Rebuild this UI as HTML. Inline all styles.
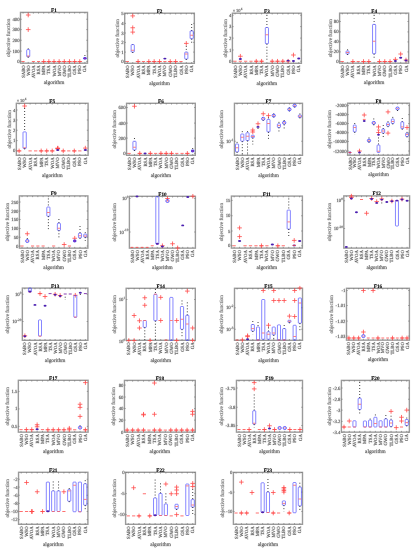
<!DOCTYPE html>
<html><head><meta charset="utf-8"><title>Boxplots F1-F23</title>
<style>html,body{margin:0;padding:0;background:#fff;}svg{display:block;text-rendering:geometricPrecision;}.t{fill:#505050;stroke:#c4c4c4;stroke-width:0.5px;paint-order:stroke;}.yl{fill:#6c6c6c;stroke:#d2d2d2;stroke-width:0.5px;paint-order:stroke;}</style>
</head><body>
<svg width="416" height="550" viewBox="0 0 416 550" font-family="'Liberation Serif', 'Times New Roman', serif" fill="#222">
<rect width="416" height="550" fill="#fff"/>
<rect x="20.5" y="12.4" width="67" height="50.8" fill="none" stroke="#9a9a9a" stroke-width="1.4"/>
<path d="M23.08 63.2v-1.3M23.08 12.4v1.3M28.23 63.2v-1.3M28.23 12.4v1.3M33.38 63.2v-1.3M33.38 12.4v1.3M38.54 63.2v-1.3M38.54 12.4v1.3M43.69 63.2v-1.3M43.69 12.4v1.3M48.85 63.2v-1.3M48.85 12.4v1.3M54 63.2v-1.3M54 12.4v1.3M59.15 63.2v-1.3M59.15 12.4v1.3M64.31 63.2v-1.3M64.31 12.4v1.3M69.46 63.2v-1.3M69.46 12.4v1.3M74.62 63.2v-1.3M74.62 12.4v1.3M79.77 63.2v-1.3M79.77 12.4v1.3M84.92 63.2v-1.3M84.92 12.4v1.3M20.5 61.5h1.3M87.5 61.5h-1.3M20.5 51.1h1.3M87.5 51.1h-1.3M20.5 40.25h1.3M87.5 40.25h-1.3M20.5 29.6h1.3M87.5 29.6h-1.3M20.5 19.25h1.3M87.5 19.25h-1.3" stroke="#6a6a6a" stroke-width="0.55" fill="none"/>
<clipPath id="cF1"><rect x="20" y="9.9" width="68" height="55.8"/></clipPath>
<g clip-path="url(#cF1)">
<line x1="21.55" x2="24.61" y1="61.5" y2="61.5" stroke="#ff4a4a" stroke-width="0.8"/>
<path d="M25.93 15H30.53M28.23 12.7V17.3" stroke="#ff4a4a" stroke-width="0.8" fill="none"/>
<path d="M25.93 29.6H30.53M28.23 27.3V31.9" stroke="#ff4a4a" stroke-width="0.8" fill="none"/>
<line x1="28.23" x2="28.23" y1="48.4" y2="49.6" stroke="#111" stroke-width="0.9" stroke-dasharray="0.9 2.1"/>
<rect x="26.7" y="49.6" width="3.06" height="7.2" rx="0.7" fill="none" stroke="#3535ff" stroke-width="0.6"/>
<line x1="26.9" x2="29.56" y1="56" y2="56" stroke="#ff6262" stroke-width="0.8"/>
<line x1="28.23" x2="28.23" y1="56.8" y2="59" stroke="#111" stroke-width="0.9" stroke-dasharray="0.9 2.1"/>
<line x1="31.85" x2="34.92" y1="61.5" y2="61.5" stroke="#ff4a4a" stroke-width="0.8"/>
<line x1="37.01" x2="40.07" y1="61.5" y2="61.5" stroke="#ff4a4a" stroke-width="0.8"/>
<path d="M41.39 61.5H45.99M43.69 59.2V63.8" stroke="#ff4a4a" stroke-width="0.8" fill="none"/>
<path d="M46.55 61.5H51.15M48.85 59.2V63.8" stroke="#ff4a4a" stroke-width="0.8" fill="none"/>
<path d="M51.7 61.5H56.3M54 59.2V63.8" stroke="#ff4a4a" stroke-width="0.8" fill="none"/>
<path d="M56.85 61.5H61.45M59.15 59.2V63.8" stroke="#ff4a4a" stroke-width="0.8" fill="none"/>
<path d="M62.01 61.5H66.61M64.31 59.2V63.8" stroke="#ff4a4a" stroke-width="0.8" fill="none"/>
<path d="M67.16 61.5H71.76M69.46 59.2V63.8" stroke="#ff4a4a" stroke-width="0.8" fill="none"/>
<path d="M72.32 61.5H76.92M74.62 59.2V63.8" stroke="#ff4a4a" stroke-width="0.8" fill="none"/>
<path d="M77.47 61.5H82.07M79.77 59.2V63.8" stroke="#ff4a4a" stroke-width="0.8" fill="none"/>
<line x1="42.16" x2="45.22" y1="61.5" y2="61.5" stroke="#ff4a4a" stroke-width="0.8"/>
<line x1="47.31" x2="50.38" y1="61.5" y2="61.5" stroke="#ff4a4a" stroke-width="0.8"/>
<line x1="52.47" x2="55.53" y1="61.5" y2="61.5" stroke="#ff4a4a" stroke-width="0.8"/>
<line x1="57.62" x2="60.69" y1="61.5" y2="61.5" stroke="#ff4a4a" stroke-width="0.8"/>
<line x1="62.78" x2="65.84" y1="61.5" y2="61.5" stroke="#ff4a4a" stroke-width="0.8"/>
<line x1="67.93" x2="70.99" y1="61.5" y2="61.5" stroke="#ff4a4a" stroke-width="0.8"/>
<line x1="73.08" x2="76.15" y1="61.5" y2="61.5" stroke="#ff4a4a" stroke-width="0.8"/>
<line x1="78.24" x2="81.3" y1="61.5" y2="61.5" stroke="#ff4a4a" stroke-width="0.8"/>
<line x1="84.92" x2="84.92" y1="55" y2="61" stroke="#111" stroke-width="0.9" stroke-dasharray="0.9 2.1"/>
<ellipse cx="84.92" cy="58.3" rx="1.73" ry="1.4" fill="#3c3cf5"/>
<line x1="84" x2="85.84" y1="58.3" y2="58.3" stroke="#e0206a" stroke-width="0.8"/>
</g>
<text x="19.5" y="63.07" text-anchor="end" font-size="4.75" class="t">0</text>
<text x="19.5" y="52.67" text-anchor="end" font-size="4.75" class="t">100</text>
<text x="19.5" y="41.82" text-anchor="end" font-size="4.75" class="t">200</text>
<text x="19.5" y="31.17" text-anchor="end" font-size="4.75" class="t">300</text>
<text x="19.5" y="20.82" text-anchor="end" font-size="4.75" class="t">400</text>
<text transform="translate(24.64 65.2) rotate(-90)" text-anchor="end" font-size="4.75" class="t">SABO</text>
<text transform="translate(29.8 65.2) rotate(-90)" text-anchor="end" font-size="4.75" class="t">WSO</text>
<text transform="translate(34.95 65.2) rotate(-90)" text-anchor="end" font-size="4.75" class="t">AVOA</text>
<text transform="translate(40.11 65.2) rotate(-90)" text-anchor="end" font-size="4.75" class="t">RSA</text>
<text transform="translate(45.26 65.2) rotate(-90)" text-anchor="end" font-size="4.75" class="t">MPA</text>
<text transform="translate(50.41 65.2) rotate(-90)" text-anchor="end" font-size="4.75" class="t">TSA</text>
<text transform="translate(55.57 65.2) rotate(-90)" text-anchor="end" font-size="4.75" class="t">WOA</text>
<text transform="translate(60.72 65.2) rotate(-90)" text-anchor="end" font-size="4.75" class="t">MVO</text>
<text transform="translate(65.88 65.2) rotate(-90)" text-anchor="end" font-size="4.75" class="t">GWO</text>
<text transform="translate(71.03 65.2) rotate(-90)" text-anchor="end" font-size="4.75" class="t">TLBO</text>
<text transform="translate(76.18 65.2) rotate(-90)" text-anchor="end" font-size="4.75" class="t">GSA</text>
<text transform="translate(81.34 65.2) rotate(-90)" text-anchor="end" font-size="4.75" class="t">PSO</text>
<text transform="translate(86.49 65.2) rotate(-90)" text-anchor="end" font-size="4.75" class="t">GA</text>
<text x="54" y="11.8" text-anchor="middle" font-size="5.2" font-weight="bold" fill="#000" stroke="#000" stroke-width="0.1">F1</text>
<text x="54" y="84.4" text-anchor="middle" font-size="5.3" class="t">algorithm</text>
<text transform="translate(10.32 37.8) rotate(-90)" text-anchor="middle" font-size="5.3" class="yl">objective function</text>
<rect x="124.7" y="13.2" width="69.65" height="50.1" fill="none" stroke="#9a9a9a" stroke-width="1.4"/>
<path d="M127.38 63.3v-1.3M127.38 13.2v1.3M132.74 63.3v-1.3M132.74 13.2v1.3M138.09 63.3v-1.3M138.09 13.2v1.3M143.45 63.3v-1.3M143.45 13.2v1.3M148.81 63.3v-1.3M148.81 13.2v1.3M154.17 63.3v-1.3M154.17 13.2v1.3M159.53 63.3v-1.3M159.53 13.2v1.3M164.88 63.3v-1.3M164.88 13.2v1.3M170.24 63.3v-1.3M170.24 13.2v1.3M175.6 63.3v-1.3M175.6 13.2v1.3M180.96 63.3v-1.3M180.96 13.2v1.3M186.31 63.3v-1.3M186.31 13.2v1.3M191.67 63.3v-1.3M191.67 13.2v1.3M124.7 61.5h1.3M194.35 61.5h-1.3M124.7 52.1h1.3M194.35 52.1h-1.3M124.7 42.4h1.3M194.35 42.4h-1.3M124.7 33h1.3M194.35 33h-1.3M124.7 23.4h1.3M194.35 23.4h-1.3M124.7 13.75h1.3M194.35 13.75h-1.3" stroke="#6a6a6a" stroke-width="0.55" fill="none"/>
<clipPath id="cF2"><rect x="124.2" y="10.7" width="70.65" height="55.1"/></clipPath>
<g clip-path="url(#cF2)">
<line x1="125.79" x2="128.97" y1="61.5" y2="61.5" stroke="#ff4a4a" stroke-width="0.8"/>
<path d="M130.44 15.9H135.04M132.74 13.6V18.2" stroke="#ff4a4a" stroke-width="0.8" fill="none"/>
<path d="M130.44 27.75H135.04M132.74 25.45V30.05" stroke="#ff4a4a" stroke-width="0.8" fill="none"/>
<path d="M130.44 32.1H135.04M132.74 29.8V34.4" stroke="#ff4a4a" stroke-width="0.8" fill="none"/>
<line x1="132.74" x2="132.74" y1="44" y2="44.6" stroke="#111" stroke-width="0.9" stroke-dasharray="0.9 2.1"/>
<rect x="131.14" y="44.6" width="3.18" height="7.5" rx="0.7" fill="none" stroke="#3535ff" stroke-width="0.6"/>
<line x1="131.34" x2="134.13" y1="50.25" y2="50.25" stroke="#ff6262" stroke-width="0.8"/>
<line x1="132.74" x2="132.74" y1="52.1" y2="54.6" stroke="#111" stroke-width="0.9" stroke-dasharray="0.9 2.1"/>
<path d="M135.79 61.5H140.39M138.09 59.2V63.8" stroke="#ff4a4a" stroke-width="0.8" fill="none"/>
<line x1="136.5" x2="139.69" y1="61.5" y2="61.5" stroke="#ff4a4a" stroke-width="0.8"/>
<line x1="141.86" x2="145.04" y1="61.5" y2="61.5" stroke="#ff4a4a" stroke-width="0.8"/>
<path d="M146.51 61.5H151.11M148.81 59.2V63.8" stroke="#ff4a4a" stroke-width="0.8" fill="none"/>
<line x1="147.22" x2="150.4" y1="61.5" y2="61.5" stroke="#ff4a4a" stroke-width="0.8"/>
<path d="M151.87 61.5H156.47M154.17 59.2V63.8" stroke="#ff4a4a" stroke-width="0.8" fill="none"/>
<line x1="152.58" x2="155.76" y1="61.5" y2="61.5" stroke="#ff4a4a" stroke-width="0.8"/>
<path d="M157.22 61.5H161.83M159.53 59.2V63.8" stroke="#ff4a4a" stroke-width="0.8" fill="none"/>
<line x1="157.93" x2="161.12" y1="61.5" y2="61.5" stroke="#ff4a4a" stroke-width="0.8"/>
<ellipse cx="164.88" cy="58.6" rx="1.59" ry="0.95" fill="#4a1fb0"/>
<line x1="163.29" x2="166.47" y1="61.5" y2="61.5" stroke="#ff4a4a" stroke-width="0.8"/>
<path d="M167.94 61.5H172.54M170.24 59.2V63.8" stroke="#ff4a4a" stroke-width="0.8" fill="none"/>
<line x1="168.65" x2="171.83" y1="61.5" y2="61.5" stroke="#ff4a4a" stroke-width="0.8"/>
<path d="M173.3 61.5H177.9M175.6 59.2V63.8" stroke="#ff4a4a" stroke-width="0.8" fill="none"/>
<line x1="174.01" x2="177.19" y1="61.5" y2="61.5" stroke="#ff4a4a" stroke-width="0.8"/>
<line x1="179.36" x2="182.55" y1="61.5" y2="61.5" stroke="#ff4a4a" stroke-width="0.8"/>
<path d="M184.01 43.4H188.61M186.31 41.1V45.7" stroke="#ff4a4a" stroke-width="0.8" fill="none"/>
<line x1="186.31" x2="186.31" y1="45.9" y2="52.1" stroke="#111" stroke-width="0.9" stroke-dasharray="0.9 2.1"/>
<rect x="184.72" y="52.1" width="3.18" height="6.9" rx="0.7" fill="none" stroke="#3535ff" stroke-width="0.6"/>
<line x1="184.92" x2="187.71" y1="54" y2="54" stroke="#ff6262" stroke-width="0.8"/>
<line x1="186.31" x2="186.31" y1="59" y2="60.9" stroke="#111" stroke-width="0.9" stroke-dasharray="0.9 2.1"/>
<line x1="191.67" x2="191.67" y1="24" y2="30.9" stroke="#111" stroke-width="0.9" stroke-dasharray="0.9 2.1"/>
<rect x="190.08" y="30.9" width="3.18" height="7.85" rx="0.7" fill="none" stroke="#3535ff" stroke-width="0.6"/>
<line x1="190.28" x2="193.06" y1="35.25" y2="35.25" stroke="#ff6262" stroke-width="0.8"/>
<line x1="191.67" x2="191.67" y1="38.75" y2="44" stroke="#111" stroke-width="0.9" stroke-dasharray="0.9 2.1"/>
</g>
<text x="123.7" y="63.07" text-anchor="end" font-size="4.75" class="t">0</text>
<text x="123.7" y="53.67" text-anchor="end" font-size="4.75" class="t">1</text>
<text x="123.7" y="43.97" text-anchor="end" font-size="4.75" class="t">2</text>
<text x="123.7" y="34.57" text-anchor="end" font-size="4.75" class="t">3</text>
<text x="123.7" y="24.97" text-anchor="end" font-size="4.75" class="t">4</text>
<text x="123.7" y="15.32" text-anchor="end" font-size="4.75" class="t">5</text>
<text transform="translate(128.95 65.3) rotate(-90)" text-anchor="end" font-size="4.75" class="t">SABO</text>
<text transform="translate(134.3 65.3) rotate(-90)" text-anchor="end" font-size="4.75" class="t">WSO</text>
<text transform="translate(139.66 65.3) rotate(-90)" text-anchor="end" font-size="4.75" class="t">AVOA</text>
<text transform="translate(145.02 65.3) rotate(-90)" text-anchor="end" font-size="4.75" class="t">RSA</text>
<text transform="translate(150.38 65.3) rotate(-90)" text-anchor="end" font-size="4.75" class="t">MPA</text>
<text transform="translate(155.73 65.3) rotate(-90)" text-anchor="end" font-size="4.75" class="t">TSA</text>
<text transform="translate(161.09 65.3) rotate(-90)" text-anchor="end" font-size="4.75" class="t">WOA</text>
<text transform="translate(166.45 65.3) rotate(-90)" text-anchor="end" font-size="4.75" class="t">MVO</text>
<text transform="translate(171.81 65.3) rotate(-90)" text-anchor="end" font-size="4.75" class="t">GWO</text>
<text transform="translate(177.17 65.3) rotate(-90)" text-anchor="end" font-size="4.75" class="t">TLBO</text>
<text transform="translate(182.52 65.3) rotate(-90)" text-anchor="end" font-size="4.75" class="t">GSA</text>
<text transform="translate(187.88 65.3) rotate(-90)" text-anchor="end" font-size="4.75" class="t">PSO</text>
<text transform="translate(193.24 65.3) rotate(-90)" text-anchor="end" font-size="4.75" class="t">GA</text>
<text x="159.53" y="12.6" text-anchor="middle" font-size="5.2" font-weight="bold" fill="#000" stroke="#000" stroke-width="0.1">F2</text>
<text x="159.53" y="84.5" text-anchor="middle" font-size="5.3" class="t">algorithm</text>
<text transform="translate(118.83 38.25) rotate(-90)" text-anchor="middle" font-size="5.3" class="yl">objective function</text>
<rect x="232.4" y="13.2" width="69" height="50.1" fill="none" stroke="#9a9a9a" stroke-width="1.4"/>
<path d="M235.05 63.3v-1.3M235.05 13.2v1.3M240.36 63.3v-1.3M240.36 13.2v1.3M245.67 63.3v-1.3M245.67 13.2v1.3M250.98 63.3v-1.3M250.98 13.2v1.3M256.28 63.3v-1.3M256.28 13.2v1.3M261.59 63.3v-1.3M261.59 13.2v1.3M266.9 63.3v-1.3M266.9 13.2v1.3M272.21 63.3v-1.3M272.21 13.2v1.3M277.52 63.3v-1.3M277.52 13.2v1.3M282.82 63.3v-1.3M282.82 13.2v1.3M288.13 63.3v-1.3M288.13 13.2v1.3M293.44 63.3v-1.3M293.44 13.2v1.3M298.75 63.3v-1.3M298.75 13.2v1.3M232.4 61.25h1.3M301.4 61.25h-1.3M232.4 50h1.3M301.4 50h-1.3M232.4 38.1h1.3M301.4 38.1h-1.3M232.4 26.6h1.3M301.4 26.6h-1.3M232.4 15.25h1.3M301.4 15.25h-1.3" stroke="#6a6a6a" stroke-width="0.55" fill="none"/>
<clipPath id="cF3"><rect x="231.9" y="10.7" width="70" height="55.1"/></clipPath>
<g clip-path="url(#cF3)">
<line x1="233.48" x2="236.63" y1="61.25" y2="61.25" stroke="#ff4a4a" stroke-width="0.8"/>
<path d="M238.06 56.25H242.66M240.36 53.95V58.55" stroke="#ff4a4a" stroke-width="0.8" fill="none"/>
<ellipse cx="240.36" cy="59" rx="1.58" ry="0.95" fill="#4a1fb0"/>
<line x1="238.78" x2="241.94" y1="61.25" y2="61.25" stroke="#ff4a4a" stroke-width="0.8"/>
<line x1="244.09" x2="247.25" y1="61.25" y2="61.25" stroke="#ff4a4a" stroke-width="0.8"/>
<line x1="249.4" x2="252.55" y1="61.25" y2="61.25" stroke="#ff4a4a" stroke-width="0.8"/>
<path d="M253.98 61.25H258.58M256.28 58.95V63.55" stroke="#ff4a4a" stroke-width="0.8" fill="none"/>
<line x1="254.71" x2="257.86" y1="61.25" y2="61.25" stroke="#ff4a4a" stroke-width="0.8"/>
<path d="M259.29 61.25H263.89M261.59 58.95V63.55" stroke="#ff4a4a" stroke-width="0.8" fill="none"/>
<line x1="260.02" x2="263.17" y1="61.25" y2="61.25" stroke="#ff4a4a" stroke-width="0.8"/>
<line x1="266.9" x2="266.9" y1="15" y2="27.5" stroke="#111" stroke-width="0.9" stroke-dasharray="0.9 2.1"/>
<rect x="265.32" y="27.5" width="3.15" height="16.25" rx="0.7" fill="none" stroke="#3535ff" stroke-width="0.6"/>
<line x1="265.52" x2="268.28" y1="34.75" y2="34.75" stroke="#ff6262" stroke-width="0.8"/>
<line x1="266.9" x2="266.9" y1="43.75" y2="60" stroke="#111" stroke-width="0.9" stroke-dasharray="0.9 2.1"/>
<path d="M269.91 61.25H274.51M272.21 58.95V63.55" stroke="#ff4a4a" stroke-width="0.8" fill="none"/>
<line x1="270.63" x2="273.78" y1="61.25" y2="61.25" stroke="#ff4a4a" stroke-width="0.8"/>
<path d="M275.22 61.25H279.82M277.52 58.95V63.55" stroke="#ff4a4a" stroke-width="0.8" fill="none"/>
<line x1="275.94" x2="279.09" y1="61.25" y2="61.25" stroke="#ff4a4a" stroke-width="0.8"/>
<path d="M280.52 61.25H285.12M282.82 58.95V63.55" stroke="#ff4a4a" stroke-width="0.8" fill="none"/>
<line x1="281.25" x2="284.4" y1="61.25" y2="61.25" stroke="#ff4a4a" stroke-width="0.8"/>
<path d="M285.83 61.25H290.43M288.13 58.95V63.55" stroke="#ff4a4a" stroke-width="0.8" fill="none"/>
<ellipse cx="288.13" cy="60.6" rx="1.58" ry="0.95" fill="#4a1fb0"/>
<path d="M291.14 55H295.74M293.44 52.7V57.3" stroke="#ff4a4a" stroke-width="0.8" fill="none"/>
<ellipse cx="293.44" cy="61" rx="1.58" ry="0.95" fill="#4a1fb0"/>
<ellipse cx="298.75" cy="58.5" rx="1.58" ry="0.95" fill="#4a1fb0"/>
</g>
<text x="231.4" y="62.82" text-anchor="end" font-size="4.75" class="t">0</text>
<text x="231.4" y="51.57" text-anchor="end" font-size="4.75" class="t">1</text>
<text x="231.4" y="39.67" text-anchor="end" font-size="4.75" class="t">2</text>
<text x="231.4" y="28.17" text-anchor="end" font-size="4.75" class="t">3</text>
<text x="231.4" y="16.82" text-anchor="end" font-size="4.75" class="t">4</text>
<text x="232.8" y="11.8" font-size="4.2" class="t">×</text>
<text x="236" y="11.8" font-size="4.4" class="t">10<tspan dx="0.3" dy="-2.2" font-size="3.3">4</tspan></text>
<text transform="translate(236.62 65.3) rotate(-90)" text-anchor="end" font-size="4.75" class="t">SABO</text>
<text transform="translate(241.93 65.3) rotate(-90)" text-anchor="end" font-size="4.75" class="t">WSO</text>
<text transform="translate(247.24 65.3) rotate(-90)" text-anchor="end" font-size="4.75" class="t">AVOA</text>
<text transform="translate(252.54 65.3) rotate(-90)" text-anchor="end" font-size="4.75" class="t">RSA</text>
<text transform="translate(257.85 65.3) rotate(-90)" text-anchor="end" font-size="4.75" class="t">MPA</text>
<text transform="translate(263.16 65.3) rotate(-90)" text-anchor="end" font-size="4.75" class="t">TSA</text>
<text transform="translate(268.47 65.3) rotate(-90)" text-anchor="end" font-size="4.75" class="t">WOA</text>
<text transform="translate(273.78 65.3) rotate(-90)" text-anchor="end" font-size="4.75" class="t">MVO</text>
<text transform="translate(279.08 65.3) rotate(-90)" text-anchor="end" font-size="4.75" class="t">GWO</text>
<text transform="translate(284.39 65.3) rotate(-90)" text-anchor="end" font-size="4.75" class="t">TLBO</text>
<text transform="translate(289.7 65.3) rotate(-90)" text-anchor="end" font-size="4.75" class="t">GSA</text>
<text transform="translate(295.01 65.3) rotate(-90)" text-anchor="end" font-size="4.75" class="t">PSO</text>
<text transform="translate(300.31 65.3) rotate(-90)" text-anchor="end" font-size="4.75" class="t">GA</text>
<text x="266.9" y="12.6" text-anchor="middle" font-size="5.2" font-weight="bold" fill="#000" stroke="#000" stroke-width="0.1">F3</text>
<text x="266.9" y="84.5" text-anchor="middle" font-size="5.3" class="t">algorithm</text>
<text transform="translate(227.42 38.25) rotate(-90)" text-anchor="middle" font-size="5.3" class="yl">objective function</text>
<rect x="339.6" y="13.15" width="69.05" height="50.05" fill="none" stroke="#9a9a9a" stroke-width="1.4"/>
<path d="M342.26 63.2v-1.3M342.26 13.15v1.3M347.57 63.2v-1.3M347.57 13.15v1.3M352.88 63.2v-1.3M352.88 13.15v1.3M358.19 63.2v-1.3M358.19 13.15v1.3M363.5 63.2v-1.3M363.5 13.15v1.3M368.81 63.2v-1.3M368.81 13.15v1.3M374.12 63.2v-1.3M374.12 13.15v1.3M379.44 63.2v-1.3M379.44 13.15v1.3M384.75 63.2v-1.3M384.75 13.15v1.3M390.06 63.2v-1.3M390.06 13.15v1.3M395.37 63.2v-1.3M395.37 13.15v1.3M400.68 63.2v-1.3M400.68 13.15v1.3M405.99 63.2v-1.3M405.99 13.15v1.3M339.6 61.5h1.3M408.65 61.5h-1.3M339.6 51.9h1.3M408.65 51.9h-1.3M339.6 41.9h1.3M408.65 41.9h-1.3M339.6 31.9h1.3M408.65 31.9h-1.3M339.6 21.5h1.3M408.65 21.5h-1.3" stroke="#6a6a6a" stroke-width="0.55" fill="none"/>
<clipPath id="cF4"><rect x="339.1" y="10.65" width="70.05" height="55.05"/></clipPath>
<g clip-path="url(#cF4)">
<line x1="340.68" x2="343.83" y1="61.5" y2="61.5" stroke="#ff4a4a" stroke-width="0.8"/>
<line x1="347.57" x2="347.57" y1="49.4" y2="51.25" stroke="#111" stroke-width="0.9" stroke-dasharray="0.9 2.1"/>
<rect x="345.99" y="51" width="3.16" height="3" rx="0.7" fill="none" stroke="#3535ff" stroke-width="0.6"/>
<line x1="346.19" x2="348.95" y1="52.5" y2="52.5" stroke="#ff6262" stroke-width="0.8"/>
<line x1="347.57" x2="347.57" y1="54" y2="55.6" stroke="#111" stroke-width="0.9" stroke-dasharray="0.9 2.1"/>
<path d="M350.58 61.5H355.18M352.88 59.2V63.8" stroke="#ff4a4a" stroke-width="0.8" fill="none"/>
<line x1="351.3" x2="354.46" y1="61.5" y2="61.5" stroke="#ff4a4a" stroke-width="0.8"/>
<line x1="356.61" x2="359.77" y1="61.5" y2="61.5" stroke="#ff4a4a" stroke-width="0.8"/>
<path d="M361.2 61.5H365.8M363.5 59.2V63.8" stroke="#ff4a4a" stroke-width="0.8" fill="none"/>
<line x1="361.92" x2="365.08" y1="61.5" y2="61.5" stroke="#ff4a4a" stroke-width="0.8"/>
<path d="M366.51 61.5H371.11M368.81 59.2V63.8" stroke="#ff4a4a" stroke-width="0.8" fill="none"/>
<line x1="367.24" x2="370.39" y1="61.5" y2="61.5" stroke="#ff4a4a" stroke-width="0.8"/>
<line x1="374.12" x2="374.12" y1="15" y2="24.4" stroke="#111" stroke-width="0.9" stroke-dasharray="0.9 2.1"/>
<rect x="372.55" y="24.4" width="3.16" height="29.35" rx="0.7" fill="none" stroke="#3535ff" stroke-width="0.6"/>
<line x1="372.75" x2="375.5" y1="41.25" y2="41.25" stroke="#ff6262" stroke-width="0.8"/>
<line x1="374.12" x2="374.12" y1="53.75" y2="59.4" stroke="#111" stroke-width="0.9" stroke-dasharray="0.9 2.1"/>
<path d="M377.14 61.5H381.74M379.44 59.2V63.8" stroke="#ff4a4a" stroke-width="0.8" fill="none"/>
<line x1="377.86" x2="381.01" y1="61.5" y2="61.5" stroke="#ff4a4a" stroke-width="0.8"/>
<path d="M382.45 61.5H387.05M384.75 59.2V63.8" stroke="#ff4a4a" stroke-width="0.8" fill="none"/>
<line x1="383.17" x2="386.33" y1="61.5" y2="61.5" stroke="#ff4a4a" stroke-width="0.8"/>
<path d="M387.76 61.5H392.36M390.06 59.2V63.8" stroke="#ff4a4a" stroke-width="0.8" fill="none"/>
<line x1="388.48" x2="391.64" y1="61.5" y2="61.5" stroke="#ff4a4a" stroke-width="0.8"/>
<path d="M393.07 59.4H397.67M395.37 57.1V61.7" stroke="#ff4a4a" stroke-width="0.8" fill="none"/>
<ellipse cx="395.37" cy="61" rx="1.58" ry="0.95" fill="#4a1fb0"/>
<path d="M398.38 54H402.98M400.68 51.7V56.3" stroke="#ff4a4a" stroke-width="0.8" fill="none"/>
<ellipse cx="400.68" cy="57.75" rx="1.58" ry="0.95" fill="#4a1fb0"/>
<path d="M403.69 60H408.29M405.99 57.7V62.3" stroke="#ff4a4a" stroke-width="0.8" fill="none"/>
<ellipse cx="405.99" cy="60.5" rx="1.58" ry="0.95" fill="#4a1fb0"/>
</g>
<text x="338.6" y="63.07" text-anchor="end" font-size="4.75" class="t">0</text>
<text x="338.6" y="53.47" text-anchor="end" font-size="4.75" class="t">20</text>
<text x="338.6" y="43.47" text-anchor="end" font-size="4.75" class="t">40</text>
<text x="338.6" y="33.47" text-anchor="end" font-size="4.75" class="t">60</text>
<text x="338.6" y="23.07" text-anchor="end" font-size="4.75" class="t">80</text>
<text transform="translate(343.82 65.2) rotate(-90)" text-anchor="end" font-size="4.75" class="t">SABO</text>
<text transform="translate(349.13 65.2) rotate(-90)" text-anchor="end" font-size="4.75" class="t">WSO</text>
<text transform="translate(354.45 65.2) rotate(-90)" text-anchor="end" font-size="4.75" class="t">AVOA</text>
<text transform="translate(359.76 65.2) rotate(-90)" text-anchor="end" font-size="4.75" class="t">RSA</text>
<text transform="translate(365.07 65.2) rotate(-90)" text-anchor="end" font-size="4.75" class="t">MPA</text>
<text transform="translate(370.38 65.2) rotate(-90)" text-anchor="end" font-size="4.75" class="t">TSA</text>
<text transform="translate(375.69 65.2) rotate(-90)" text-anchor="end" font-size="4.75" class="t">WOA</text>
<text transform="translate(381 65.2) rotate(-90)" text-anchor="end" font-size="4.75" class="t">MVO</text>
<text transform="translate(386.32 65.2) rotate(-90)" text-anchor="end" font-size="4.75" class="t">GWO</text>
<text transform="translate(391.63 65.2) rotate(-90)" text-anchor="end" font-size="4.75" class="t">TLBO</text>
<text transform="translate(396.94 65.2) rotate(-90)" text-anchor="end" font-size="4.75" class="t">GSA</text>
<text transform="translate(402.25 65.2) rotate(-90)" text-anchor="end" font-size="4.75" class="t">PSO</text>
<text transform="translate(407.56 65.2) rotate(-90)" text-anchor="end" font-size="4.75" class="t">GA</text>
<text x="374.12" y="12.55" text-anchor="middle" font-size="5.2" font-weight="bold" fill="#000" stroke="#000" stroke-width="0.1">F4</text>
<text x="374.12" y="84.4" text-anchor="middle" font-size="5.3" class="t">algorithm</text>
<text transform="translate(332.07 38.18) rotate(-90)" text-anchor="middle" font-size="5.3" class="yl">objective function</text>
<rect x="16.35" y="103.3" width="71.75" height="52" fill="none" stroke="#9a9a9a" stroke-width="1.4"/>
<path d="M19.11 155.3v-1.3M19.11 103.3v1.3M24.63 155.3v-1.3M24.63 103.3v1.3M30.15 155.3v-1.3M30.15 103.3v1.3M35.67 155.3v-1.3M35.67 103.3v1.3M41.19 155.3v-1.3M41.19 103.3v1.3M46.71 155.3v-1.3M46.71 103.3v1.3M52.23 155.3v-1.3M52.23 103.3v1.3M57.74 155.3v-1.3M57.74 103.3v1.3M63.26 155.3v-1.3M63.26 103.3v1.3M68.78 155.3v-1.3M68.78 103.3v1.3M74.3 155.3v-1.3M74.3 103.3v1.3M79.82 155.3v-1.3M79.82 103.3v1.3M85.34 155.3v-1.3M85.34 103.3v1.3M16.35 150.9h1.3M88.1 150.9h-1.3M16.35 140.6h1.3M88.1 140.6h-1.3M16.35 130.25h1.3M88.1 130.25h-1.3M16.35 120h1.3M88.1 120h-1.3M16.35 110h1.3M88.1 110h-1.3" stroke="#6a6a6a" stroke-width="0.55" fill="none"/>
<clipPath id="cF5"><rect x="15.85" y="100.8" width="72.75" height="57"/></clipPath>
<g clip-path="url(#cF5)">
<path d="M16.81 150.9H21.41M19.11 148.6V153.2" stroke="#ff4a4a" stroke-width="0.8" fill="none"/>
<line x1="17.47" x2="20.75" y1="150.9" y2="150.9" stroke="#ff4a4a" stroke-width="0.8"/>
<path d="M22.33 106H26.93M24.63 103.7V108.3" stroke="#ff4a4a" stroke-width="0.8" fill="none"/>
<line x1="24.63" x2="24.63" y1="108" y2="131.9" stroke="#111" stroke-width="0.9" stroke-dasharray="0.9 2.1"/>
<rect x="22.99" y="131.9" width="3.28" height="16.6" rx="0.7" fill="none" stroke="#3535ff" stroke-width="0.6"/>
<line x1="23.19" x2="26.07" y1="147.75" y2="147.75" stroke="#ff6262" stroke-width="0.8"/>
<line x1="24.63" x2="24.63" y1="148.5" y2="150.5" stroke="#111" stroke-width="0.9" stroke-dasharray="0.9 2.1"/>
<line x1="28.51" x2="31.79" y1="150.9" y2="150.9" stroke="#ff4a4a" stroke-width="0.8"/>
<line x1="34.03" x2="37.31" y1="150.9" y2="150.9" stroke="#ff4a4a" stroke-width="0.8"/>
<path d="M38.89 150.9H43.49M41.19 148.6V153.2" stroke="#ff4a4a" stroke-width="0.8" fill="none"/>
<line x1="39.55" x2="42.83" y1="150.9" y2="150.9" stroke="#ff4a4a" stroke-width="0.8"/>
<path d="M44.41 150.9H49.01M46.71 148.6V153.2" stroke="#ff4a4a" stroke-width="0.8" fill="none"/>
<line x1="45.07" x2="48.35" y1="150.9" y2="150.9" stroke="#ff4a4a" stroke-width="0.8"/>
<path d="M49.93 150.9H54.52M52.23 148.6V153.2" stroke="#ff4a4a" stroke-width="0.8" fill="none"/>
<line x1="50.58" x2="53.87" y1="150.9" y2="150.9" stroke="#ff4a4a" stroke-width="0.8"/>
<path d="M55.44 148.1H60.04M57.74 145.8V150.4" stroke="#ff4a4a" stroke-width="0.8" fill="none"/>
<path d="M55.44 148.6H60.04M57.74 146.3V150.9" stroke="#ff4a4a" stroke-width="1.12" fill="none"/>
<ellipse cx="57.74" cy="150" rx="1.64" ry="0.95" fill="#4a1fb0"/>
<path d="M60.96 150.9H65.56M63.26 148.6V153.2" stroke="#ff4a4a" stroke-width="0.8" fill="none"/>
<line x1="61.62" x2="64.9" y1="150.9" y2="150.9" stroke="#ff4a4a" stroke-width="0.8"/>
<line x1="67.14" x2="70.42" y1="150.9" y2="150.9" stroke="#ff4a4a" stroke-width="0.8"/>
<path d="M72 150.9H76.6M74.3 148.6V153.2" stroke="#ff4a4a" stroke-width="0.8" fill="none"/>
<line x1="72.66" x2="75.94" y1="150.9" y2="150.9" stroke="#ff4a4a" stroke-width="0.8"/>
<line x1="78.18" x2="81.46" y1="150.9" y2="150.9" stroke="#ff4a4a" stroke-width="0.8"/>
<path d="M83.04 148.1H87.64M85.34 145.8V150.4" stroke="#ff4a4a" stroke-width="0.8" fill="none"/>
<ellipse cx="85.34" cy="150" rx="1.64" ry="0.95" fill="#4a1fb0"/>
</g>
<text x="15.35" y="152.47" text-anchor="end" font-size="4.75" class="t">0</text>
<text x="15.35" y="142.17" text-anchor="end" font-size="4.75" class="t">1</text>
<text x="15.35" y="131.82" text-anchor="end" font-size="4.75" class="t">2</text>
<text x="15.35" y="121.57" text-anchor="end" font-size="4.75" class="t">3</text>
<text x="15.35" y="111.57" text-anchor="end" font-size="4.75" class="t">4</text>
<text x="16.75" y="101.9" font-size="4.2" class="t">×</text>
<text x="19.95" y="101.9" font-size="4.4" class="t">10<tspan dx="0.3" dy="-2.2" font-size="3.3">4</tspan></text>
<text transform="translate(20.68 157.3) rotate(-90)" text-anchor="end" font-size="4.75" class="t">SABO</text>
<text transform="translate(26.2 157.3) rotate(-90)" text-anchor="end" font-size="4.75" class="t">WSO</text>
<text transform="translate(31.72 157.3) rotate(-90)" text-anchor="end" font-size="4.75" class="t">AVOA</text>
<text transform="translate(37.23 157.3) rotate(-90)" text-anchor="end" font-size="4.75" class="t">RSA</text>
<text transform="translate(42.75 157.3) rotate(-90)" text-anchor="end" font-size="4.75" class="t">MPA</text>
<text transform="translate(48.27 157.3) rotate(-90)" text-anchor="end" font-size="4.75" class="t">TSA</text>
<text transform="translate(53.79 157.3) rotate(-90)" text-anchor="end" font-size="4.75" class="t">WOA</text>
<text transform="translate(59.31 157.3) rotate(-90)" text-anchor="end" font-size="4.75" class="t">MVO</text>
<text transform="translate(64.83 157.3) rotate(-90)" text-anchor="end" font-size="4.75" class="t">GWO</text>
<text transform="translate(70.35 157.3) rotate(-90)" text-anchor="end" font-size="4.75" class="t">TLBO</text>
<text transform="translate(75.87 157.3) rotate(-90)" text-anchor="end" font-size="4.75" class="t">GSA</text>
<text transform="translate(81.39 157.3) rotate(-90)" text-anchor="end" font-size="4.75" class="t">PSO</text>
<text transform="translate(86.91 157.3) rotate(-90)" text-anchor="end" font-size="4.75" class="t">GA</text>
<text x="52.22" y="102.7" text-anchor="middle" font-size="5.2" font-weight="bold" fill="#000" stroke="#000" stroke-width="0.1">F5</text>
<text x="52.22" y="176.5" text-anchor="middle" font-size="5.3" class="t">algorithm</text>
<text transform="translate(11.32 129.3) rotate(-90)" text-anchor="middle" font-size="5.3" class="yl">objective function</text>
<rect x="126.55" y="103.3" width="68.75" height="52" fill="none" stroke="#9a9a9a" stroke-width="1.4"/>
<path d="M129.19 155.3v-1.3M129.19 103.3v1.3M134.48 155.3v-1.3M134.48 103.3v1.3M139.77 155.3v-1.3M139.77 103.3v1.3M145.06 155.3v-1.3M145.06 103.3v1.3M150.35 155.3v-1.3M150.35 103.3v1.3M155.64 155.3v-1.3M155.64 103.3v1.3M160.93 155.3v-1.3M160.93 103.3v1.3M166.21 155.3v-1.3M166.21 103.3v1.3M171.5 155.3v-1.3M171.5 103.3v1.3M176.79 155.3v-1.3M176.79 103.3v1.3M182.08 155.3v-1.3M182.08 103.3v1.3M187.37 155.3v-1.3M187.37 103.3v1.3M192.66 155.3v-1.3M192.66 103.3v1.3M126.55 153.4h1.3M195.3 153.4h-1.3M126.55 138.1h1.3M195.3 138.1h-1.3M126.55 123.1h1.3M195.3 123.1h-1.3M126.55 107.5h1.3M195.3 107.5h-1.3" stroke="#6a6a6a" stroke-width="0.55" fill="none"/>
<clipPath id="cF6"><rect x="126.05" y="100.8" width="69.75" height="57"/></clipPath>
<g clip-path="url(#cF6)">
<line x1="127.62" x2="130.77" y1="153.4" y2="153.4" stroke="#ff4a4a" stroke-width="0.8"/>
<path d="M132.18 106.25H136.78M134.48 103.95V108.55" stroke="#ff4a4a" stroke-width="0.8" fill="none"/>
<line x1="134.48" x2="134.48" y1="138.1" y2="141.25" stroke="#111" stroke-width="0.9" stroke-dasharray="0.9 2.1"/>
<rect x="132.91" y="141.25" width="3.14" height="8.75" rx="0.7" fill="none" stroke="#3535ff" stroke-width="0.6"/>
<line x1="133.11" x2="135.85" y1="147.25" y2="147.25" stroke="#ff6262" stroke-width="0.8"/>
<line x1="134.48" x2="134.48" y1="150" y2="152.1" stroke="#111" stroke-width="0.9" stroke-dasharray="0.9 2.1"/>
<path d="M137.47 153.4H142.07M139.77 151.1V155.7" stroke="#ff4a4a" stroke-width="0.8" fill="none"/>
<line x1="138.2" x2="141.34" y1="153.4" y2="153.4" stroke="#ff4a4a" stroke-width="0.8"/>
<ellipse cx="145.06" cy="153.4" rx="1.57" ry="0.95" fill="#4a1fb0"/>
<path d="M148.05 153.4H152.65M150.35 151.1V155.7" stroke="#ff4a4a" stroke-width="0.8" fill="none"/>
<line x1="148.78" x2="151.92" y1="153.4" y2="153.4" stroke="#ff4a4a" stroke-width="0.8"/>
<line x1="154.06" x2="157.21" y1="153.4" y2="153.4" stroke="#ff4a4a" stroke-width="0.8"/>
<path d="M158.62 153.4H163.23M160.93 151.1V155.7" stroke="#ff4a4a" stroke-width="0.8" fill="none"/>
<line x1="159.35" x2="162.5" y1="153.4" y2="153.4" stroke="#ff4a4a" stroke-width="0.8"/>
<path d="M163.91 153.4H168.51M166.21 151.1V155.7" stroke="#ff4a4a" stroke-width="0.8" fill="none"/>
<line x1="164.64" x2="167.79" y1="153.4" y2="153.4" stroke="#ff4a4a" stroke-width="0.8"/>
<path d="M169.2 153.4H173.8M171.5 151.1V155.7" stroke="#ff4a4a" stroke-width="0.8" fill="none"/>
<line x1="169.93" x2="173.07" y1="153.4" y2="153.4" stroke="#ff4a4a" stroke-width="0.8"/>
<line x1="175.22" x2="178.36" y1="153.4" y2="153.4" stroke="#ff4a4a" stroke-width="0.8"/>
<line x1="180.51" x2="183.65" y1="153.4" y2="153.4" stroke="#ff4a4a" stroke-width="0.8"/>
<path d="M185.07 153.4H189.67M187.37 151.1V155.7" stroke="#ff4a4a" stroke-width="0.8" fill="none"/>
<line x1="185.8" x2="188.94" y1="153.4" y2="153.4" stroke="#ff4a4a" stroke-width="0.8"/>
<line x1="192.66" x2="192.66" y1="148" y2="150" stroke="#111" stroke-width="0.9" stroke-dasharray="0.9 2.1"/>
<ellipse cx="192.66" cy="151" rx="1.77" ry="1.4" fill="#3c3cf5"/>
<line x1="191.71" x2="193.6" y1="151" y2="151" stroke="#e0206a" stroke-width="0.8"/>
</g>
<text x="125.55" y="154.97" text-anchor="end" font-size="4.75" class="t">0</text>
<text x="125.55" y="139.67" text-anchor="end" font-size="4.75" class="t">200</text>
<text x="125.55" y="124.67" text-anchor="end" font-size="4.75" class="t">400</text>
<text x="125.55" y="109.07" text-anchor="end" font-size="4.75" class="t">600</text>
<text transform="translate(130.76 157.3) rotate(-90)" text-anchor="end" font-size="4.75" class="t">SABO</text>
<text transform="translate(136.05 157.3) rotate(-90)" text-anchor="end" font-size="4.75" class="t">WSO</text>
<text transform="translate(141.34 157.3) rotate(-90)" text-anchor="end" font-size="4.75" class="t">AVOA</text>
<text transform="translate(146.63 157.3) rotate(-90)" text-anchor="end" font-size="4.75" class="t">RSA</text>
<text transform="translate(151.92 157.3) rotate(-90)" text-anchor="end" font-size="4.75" class="t">MPA</text>
<text transform="translate(157.2 157.3) rotate(-90)" text-anchor="end" font-size="4.75" class="t">TSA</text>
<text transform="translate(162.49 157.3) rotate(-90)" text-anchor="end" font-size="4.75" class="t">WOA</text>
<text transform="translate(167.78 157.3) rotate(-90)" text-anchor="end" font-size="4.75" class="t">MVO</text>
<text transform="translate(173.07 157.3) rotate(-90)" text-anchor="end" font-size="4.75" class="t">GWO</text>
<text transform="translate(178.36 157.3) rotate(-90)" text-anchor="end" font-size="4.75" class="t">TLBO</text>
<text transform="translate(183.65 157.3) rotate(-90)" text-anchor="end" font-size="4.75" class="t">GSA</text>
<text transform="translate(188.93 157.3) rotate(-90)" text-anchor="end" font-size="4.75" class="t">PSO</text>
<text transform="translate(194.22 157.3) rotate(-90)" text-anchor="end" font-size="4.75" class="t">GA</text>
<text x="160.93" y="102.7" text-anchor="middle" font-size="5.2" font-weight="bold" fill="#000" stroke="#000" stroke-width="0.1">F6</text>
<text x="160.93" y="176.5" text-anchor="middle" font-size="5.3" class="t">algorithm</text>
<text transform="translate(116.33 129.3) rotate(-90)" text-anchor="middle" font-size="5.3" class="yl">objective function</text>
<rect x="234.45" y="103.3" width="68.05" height="52" fill="none" stroke="#9a9a9a" stroke-width="1.4"/>
<path d="M237.07 155.3v-1.3M237.07 103.3v1.3M242.3 155.3v-1.3M242.3 103.3v1.3M247.54 155.3v-1.3M247.54 103.3v1.3M252.77 155.3v-1.3M252.77 103.3v1.3M258.01 155.3v-1.3M258.01 103.3v1.3M263.24 155.3v-1.3M263.24 103.3v1.3M268.48 155.3v-1.3M268.48 103.3v1.3M273.71 155.3v-1.3M273.71 103.3v1.3M278.94 155.3v-1.3M278.94 103.3v1.3M284.18 155.3v-1.3M284.18 103.3v1.3M289.41 155.3v-1.3M289.41 103.3v1.3M294.65 155.3v-1.3M294.65 103.3v1.3M299.88 155.3v-1.3M299.88 103.3v1.3M234.45 141.25h1.3M302.5 141.25h-1.3" stroke="#6a6a6a" stroke-width="0.55" fill="none"/>
<clipPath id="cF7"><rect x="233.95" y="100.8" width="69.05" height="57"/></clipPath>
<g clip-path="url(#cF7)">
<line x1="237.07" x2="237.07" y1="141.9" y2="144" stroke="#111" stroke-width="0.9" stroke-dasharray="0.9 2.1"/>
<rect x="235.51" y="144" width="3.11" height="7.9" rx="0.7" fill="none" stroke="#3535ff" stroke-width="0.6"/>
<line x1="235.71" x2="238.42" y1="147.75" y2="147.75" stroke="#ff6262" stroke-width="0.8"/>
<line x1="237.07" x2="237.07" y1="151.9" y2="155" stroke="#111" stroke-width="0.9" stroke-dasharray="0.9 2.1"/>
<line x1="242.3" x2="242.3" y1="131.25" y2="134" stroke="#111" stroke-width="0.9" stroke-dasharray="0.9 2.1"/>
<rect x="240.75" y="134" width="3.11" height="7.25" rx="0.7" fill="none" stroke="#3535ff" stroke-width="0.6"/>
<line x1="240.95" x2="243.66" y1="137.25" y2="137.25" stroke="#ff6262" stroke-width="0.8"/>
<line x1="242.3" x2="242.3" y1="141.25" y2="155" stroke="#111" stroke-width="0.9" stroke-dasharray="0.9 2.1"/>
<line x1="247.54" x2="247.54" y1="131.25" y2="132.75" stroke="#111" stroke-width="0.9" stroke-dasharray="0.9 2.1"/>
<rect x="245.98" y="132.75" width="3.11" height="7.85" rx="0.7" fill="none" stroke="#3535ff" stroke-width="0.6"/>
<line x1="246.18" x2="248.89" y1="136.25" y2="136.25" stroke="#ff6262" stroke-width="0.8"/>
<line x1="247.54" x2="247.54" y1="140.6" y2="155" stroke="#111" stroke-width="0.9" stroke-dasharray="0.9 2.1"/>
<path d="M250.47 130H255.07M252.77 127.7V132.3" stroke="#ff4a4a" stroke-width="0.8" fill="none"/>
<path d="M250.47 132H255.07M252.77 129.7V134.3" stroke="#ff4a4a" stroke-width="0.8" fill="none"/>
<rect x="251.22" y="135.25" width="3.11" height="2.5" rx="0.7" fill="none" stroke="#3535ff" stroke-width="0.6"/>
<line x1="251.42" x2="254.13" y1="136.5" y2="136.5" stroke="#ff6262" stroke-width="0.8"/>
<line x1="252.77" x2="252.77" y1="137.75" y2="144.4" stroke="#111" stroke-width="0.9" stroke-dasharray="0.9 2.1"/>
<path d="M255.71 123.75H260.31M258.01 121.45V126.05" stroke="#ff4a4a" stroke-width="0.8" fill="none"/>
<ellipse cx="258.01" cy="126.9" rx="1.56" ry="0.95" fill="#4a1fb0"/>
<line x1="258.01" x2="258.01" y1="128" y2="129.75" stroke="#111" stroke-width="0.9" stroke-dasharray="0.9 2.1"/>
<path d="M260.94 113.75H265.54M263.24 111.45V116.05" stroke="#ff4a4a" stroke-width="0.8" fill="none"/>
<ellipse cx="263.24" cy="118.75" rx="1.65" ry="1.5" fill="none" stroke="#3535ff" stroke-width="0.8"/>
<line x1="262.34" x2="264.14" y1="118.75" y2="118.75" stroke="#ff4a4a" stroke-width="0.6"/>
<line x1="263.24" x2="263.24" y1="120" y2="120.6" stroke="#111" stroke-width="0.9" stroke-dasharray="0.9 2.1"/>
<path d="M266.18 115.6H270.78M268.48 113.3V117.9" stroke="#ff4a4a" stroke-width="0.8" fill="none"/>
<line x1="268.48" x2="268.48" y1="117.5" y2="119.4" stroke="#111" stroke-width="0.9" stroke-dasharray="0.9 2.1"/>
<rect x="266.92" y="119.4" width="3.11" height="12.5" rx="0.7" fill="none" stroke="#3535ff" stroke-width="0.6"/>
<line x1="267.12" x2="269.83" y1="123.5" y2="123.5" stroke="#ff6262" stroke-width="0.8"/>
<line x1="268.48" x2="268.48" y1="131.9" y2="138.75" stroke="#111" stroke-width="0.9" stroke-dasharray="0.9 2.1"/>
<line x1="273.71" x2="273.71" y1="113.5" y2="117.5" stroke="#111" stroke-width="0.9" stroke-dasharray="0.9 2.1"/>
<ellipse cx="273.71" cy="115.6" rx="1.65" ry="1.5" fill="none" stroke="#3535ff" stroke-width="0.8"/>
<line x1="272.81" x2="274.61" y1="115.6" y2="115.6" stroke="#ff4a4a" stroke-width="0.6"/>
<line x1="278.94" x2="278.94" y1="121.9" y2="123.75" stroke="#111" stroke-width="0.9" stroke-dasharray="0.9 2.1"/>
<rect x="277.39" y="123.75" width="3.11" height="3.75" rx="0.7" fill="none" stroke="#3535ff" stroke-width="0.6"/>
<line x1="277.59" x2="280.3" y1="125.6" y2="125.6" stroke="#ff6262" stroke-width="0.8"/>
<line x1="278.94" x2="278.94" y1="127.5" y2="131.9" stroke="#111" stroke-width="0.9" stroke-dasharray="0.9 2.1"/>
<line x1="284.18" x2="284.18" y1="120" y2="121" stroke="#111" stroke-width="0.9" stroke-dasharray="0.9 2.1"/>
<ellipse cx="284.18" cy="122.75" rx="1.65" ry="1.5" fill="none" stroke="#3535ff" stroke-width="0.8"/>
<line x1="283.28" x2="285.08" y1="122.75" y2="122.75" stroke="#ff4a4a" stroke-width="0.6"/>
<line x1="284.18" x2="284.18" y1="124.5" y2="129.4" stroke="#111" stroke-width="0.9" stroke-dasharray="0.9 2.1"/>
<line x1="289.41" x2="289.41" y1="107.5" y2="111.9" stroke="#111" stroke-width="0.9" stroke-dasharray="0.9 2.1"/>
<ellipse cx="289.41" cy="109.4" rx="1.65" ry="1.5" fill="none" stroke="#3535ff" stroke-width="0.8"/>
<line x1="288.51" x2="290.31" y1="109.4" y2="109.4" stroke="#ff4a4a" stroke-width="0.6"/>
<line x1="294.65" x2="294.65" y1="106.5" y2="108.5" stroke="#111" stroke-width="0.9" stroke-dasharray="0.9 2.1"/>
<ellipse cx="294.65" cy="105.6" rx="1.65" ry="1.5" fill="none" stroke="#3535ff" stroke-width="0.8"/>
<line x1="293.75" x2="295.55" y1="105.6" y2="105.6" stroke="#ff4a4a" stroke-width="0.6"/>
<line x1="299.88" x2="299.88" y1="113.5" y2="115" stroke="#111" stroke-width="0.9" stroke-dasharray="0.9 2.1"/>
<rect x="298.33" y="115" width="3.11" height="2.5" rx="0.7" fill="none" stroke="#3535ff" stroke-width="0.6"/>
<line x1="298.53" x2="301.24" y1="116.25" y2="116.25" stroke="#ff6262" stroke-width="0.8"/>
<line x1="299.88" x2="299.88" y1="117.5" y2="120" stroke="#111" stroke-width="0.9" stroke-dasharray="0.9 2.1"/>
</g>
<text x="233.45" y="142.82" text-anchor="end" font-size="4.75" class="t">10<tspan dy="-2.14" font-size="3.32">-1</tspan></text>
<text transform="translate(238.63 157.3) rotate(-90)" text-anchor="end" font-size="4.75" class="t">SABO</text>
<text transform="translate(243.87 157.3) rotate(-90)" text-anchor="end" font-size="4.75" class="t">WSO</text>
<text transform="translate(249.1 157.3) rotate(-90)" text-anchor="end" font-size="4.75" class="t">AVOA</text>
<text transform="translate(254.34 157.3) rotate(-90)" text-anchor="end" font-size="4.75" class="t">RSA</text>
<text transform="translate(259.57 157.3) rotate(-90)" text-anchor="end" font-size="4.75" class="t">MPA</text>
<text transform="translate(264.81 157.3) rotate(-90)" text-anchor="end" font-size="4.75" class="t">TSA</text>
<text transform="translate(270.04 157.3) rotate(-90)" text-anchor="end" font-size="4.75" class="t">WOA</text>
<text transform="translate(275.28 157.3) rotate(-90)" text-anchor="end" font-size="4.75" class="t">MVO</text>
<text transform="translate(280.51 157.3) rotate(-90)" text-anchor="end" font-size="4.75" class="t">GWO</text>
<text transform="translate(285.75 157.3) rotate(-90)" text-anchor="end" font-size="4.75" class="t">TLBO</text>
<text transform="translate(290.98 157.3) rotate(-90)" text-anchor="end" font-size="4.75" class="t">GSA</text>
<text transform="translate(296.22 157.3) rotate(-90)" text-anchor="end" font-size="4.75" class="t">PSO</text>
<text transform="translate(301.45 157.3) rotate(-90)" text-anchor="end" font-size="4.75" class="t">GA</text>
<text x="268.48" y="102.7" text-anchor="middle" font-size="5.2" font-weight="bold" fill="#000" stroke="#000" stroke-width="0.1">F7</text>
<text x="268.48" y="176.5" text-anchor="middle" font-size="5.3" class="t">algorithm</text>
<text transform="translate(223.07 129.3) rotate(-90)" text-anchor="middle" font-size="5.3" class="yl">objective function</text>
<rect x="347.6" y="103.2" width="61.8" height="52" fill="none" stroke="#9a9a9a" stroke-width="1.4"/>
<path d="M349.98 155.2v-1.3M349.98 103.2v1.3M354.73 155.2v-1.3M354.73 103.2v1.3M359.48 155.2v-1.3M359.48 103.2v1.3M364.24 155.2v-1.3M364.24 103.2v1.3M368.99 155.2v-1.3M368.99 103.2v1.3M373.75 155.2v-1.3M373.75 103.2v1.3M378.5 155.2v-1.3M378.5 103.2v1.3M383.25 155.2v-1.3M383.25 103.2v1.3M388.01 155.2v-1.3M388.01 103.2v1.3M392.76 155.2v-1.3M392.76 103.2v1.3M397.52 155.2v-1.3M397.52 103.2v1.3M402.27 155.2v-1.3M402.27 103.2v1.3M407.02 155.2v-1.3M407.02 103.2v1.3M347.6 151h1.3M409.4 151h-1.3M347.6 141.5h1.3M409.4 141.5h-1.3M347.6 132.75h1.3M409.4 132.75h-1.3M347.6 123.5h1.3M409.4 123.5h-1.3M347.6 114.6h1.3M409.4 114.6h-1.3M347.6 105.6h1.3M409.4 105.6h-1.3" stroke="#6a6a6a" stroke-width="0.55" fill="none"/>
<clipPath id="cF8"><rect x="347.1" y="100.7" width="62.8" height="57"/></clipPath>
<g clip-path="url(#cF8)">
<ellipse cx="349.98" cy="152.5" rx="1.41" ry="0.95" fill="#4a1fb0"/>
<line x1="348.56" x2="351.39" y1="152.5" y2="152.5" stroke="#ff4a4a" stroke-width="0.8"/>
<line x1="354.73" x2="354.73" y1="123.1" y2="125" stroke="#111" stroke-width="0.9" stroke-dasharray="0.9 2.1"/>
<rect x="353.32" y="125" width="2.83" height="6.9" rx="0.7" fill="none" stroke="#3535ff" stroke-width="0.6"/>
<line x1="353.52" x2="355.94" y1="127.5" y2="127.5" stroke="#ff6262" stroke-width="0.8"/>
<line x1="354.73" x2="354.73" y1="131.9" y2="135" stroke="#111" stroke-width="0.9" stroke-dasharray="0.9 2.1"/>
<path d="M357.18 151H361.78M359.48 148.7V153.3" stroke="#ff4a4a" stroke-width="0.8" fill="none"/>
<ellipse cx="359.48" cy="152.5" rx="1.41" ry="0.95" fill="#4a1fb0"/>
<path d="M361.94 115H366.54M364.24 112.7V117.3" stroke="#ff4a4a" stroke-width="0.8" fill="none"/>
<line x1="362.83" x2="365.65" y1="119.4" y2="119.4" stroke="#ff4a4a" stroke-width="0.8"/>
<ellipse cx="364.24" cy="121" rx="1.41" ry="0.95" fill="#4a1fb0"/>
<line x1="368.99" x2="368.99" y1="137.5" y2="139.5" stroke="#111" stroke-width="0.9" stroke-dasharray="0.9 2.1"/>
<ellipse cx="368.99" cy="140.6" rx="1.65" ry="1.5" fill="none" stroke="#3535ff" stroke-width="0.8"/>
<line x1="368.09" x2="369.89" y1="140.6" y2="140.6" stroke="#ff4a4a" stroke-width="0.6"/>
<line x1="368.99" x2="368.99" y1="141.6" y2="144.4" stroke="#111" stroke-width="0.9" stroke-dasharray="0.9 2.1"/>
<line x1="373.75" x2="373.75" y1="118.5" y2="121.5" stroke="#111" stroke-width="0.9" stroke-dasharray="0.9 2.1"/>
<ellipse cx="373.75" cy="122.9" rx="1.65" ry="1.5" fill="none" stroke="#3535ff" stroke-width="0.8"/>
<line x1="372.85" x2="374.65" y1="122.9" y2="122.9" stroke="#ff4a4a" stroke-width="0.6"/>
<line x1="373.75" x2="373.75" y1="124.4" y2="126.9" stroke="#111" stroke-width="0.9" stroke-dasharray="0.9 2.1"/>
<path d="M376.2 126.9H380.8M378.5 124.6V129.2" stroke="#ff4a4a" stroke-width="0.8" fill="none"/>
<line x1="377.09" x2="379.91" y1="130" y2="130" stroke="#ff4a4a" stroke-width="0.8"/>
<path d="M376.2 132.5H380.8M378.5 130.2V134.8" stroke="#ff4a4a" stroke-width="0.8" fill="none"/>
<ellipse cx="378.5" cy="134.75" rx="1.41" ry="0.95" fill="#4a1fb0"/>
<line x1="378.5" x2="378.5" y1="137.5" y2="145" stroke="#111" stroke-width="0.9" stroke-dasharray="0.9 2.1"/>
<rect x="377.09" y="145" width="2.83" height="7.5" rx="0.7" fill="none" stroke="#3535ff" stroke-width="0.6"/>
<line x1="377.29" x2="379.71" y1="151.25" y2="151.25" stroke="#ff6262" stroke-width="0.8"/>
<line x1="383.25" x2="383.25" y1="125" y2="129" stroke="#111" stroke-width="0.9" stroke-dasharray="0.9 2.1"/>
<rect x="381.84" y="129" width="2.83" height="4.1" rx="0.7" fill="none" stroke="#3535ff" stroke-width="0.6"/>
<line x1="382.04" x2="384.47" y1="131" y2="131" stroke="#ff6262" stroke-width="0.8"/>
<line x1="383.25" x2="383.25" y1="133.1" y2="137.5" stroke="#111" stroke-width="0.9" stroke-dasharray="0.9 2.1"/>
<path d="M385.71 111.9H390.31M388.01 109.6V114.2" stroke="#ff4a4a" stroke-width="0.8" fill="none"/>
<path d="M385.71 133.1H390.31M388.01 130.8V135.4" stroke="#ff4a4a" stroke-width="0.8" fill="none"/>
<line x1="388.01" x2="388.01" y1="121.25" y2="122.75" stroke="#111" stroke-width="0.9" stroke-dasharray="0.9 2.1"/>
<rect x="386.59" y="122.75" width="2.83" height="3.5" rx="0.7" fill="none" stroke="#3535ff" stroke-width="0.6"/>
<line x1="386.79" x2="389.22" y1="124.5" y2="124.5" stroke="#ff6262" stroke-width="0.8"/>
<line x1="388.01" x2="388.01" y1="126.25" y2="128.75" stroke="#111" stroke-width="0.9" stroke-dasharray="0.9 2.1"/>
<line x1="392.76" x2="392.76" y1="116.9" y2="119" stroke="#111" stroke-width="0.9" stroke-dasharray="0.9 2.1"/>
<rect x="391.35" y="119" width="2.83" height="4.5" rx="0.7" fill="none" stroke="#3535ff" stroke-width="0.6"/>
<line x1="391.55" x2="393.97" y1="121.5" y2="121.5" stroke="#ff6262" stroke-width="0.8"/>
<line x1="392.76" x2="392.76" y1="123.5" y2="125.6" stroke="#111" stroke-width="0.9" stroke-dasharray="0.9 2.1"/>
<ellipse cx="397.52" cy="108.5" rx="1.65" ry="1.5" fill="none" stroke="#3535ff" stroke-width="0.8"/>
<line x1="396.62" x2="398.42" y1="108.5" y2="108.5" stroke="#ff4a4a" stroke-width="0.6"/>
<line x1="397.52" x2="397.52" y1="110" y2="111" stroke="#111" stroke-width="0.9" stroke-dasharray="0.9 2.1"/>
<line x1="402.27" x2="402.27" y1="118.1" y2="121.9" stroke="#111" stroke-width="0.9" stroke-dasharray="0.9 2.1"/>
<rect x="400.86" y="121.9" width="2.83" height="6.85" rx="0.7" fill="none" stroke="#3535ff" stroke-width="0.6"/>
<line x1="401.06" x2="403.48" y1="126.9" y2="126.9" stroke="#ff6262" stroke-width="0.8"/>
<line x1="402.27" x2="402.27" y1="128.75" y2="131.25" stroke="#111" stroke-width="0.9" stroke-dasharray="0.9 2.1"/>
<path d="M404.72 127.5H409.32M407.02 125.2V129.8" stroke="#ff4a4a" stroke-width="0.8" fill="none"/>
<line x1="407.02" x2="407.02" y1="131.9" y2="133.1" stroke="#111" stroke-width="0.9" stroke-dasharray="0.9 2.1"/>
<rect x="405.61" y="133.1" width="2.83" height="3.4" rx="0.7" fill="none" stroke="#3535ff" stroke-width="0.6"/>
<line x1="405.81" x2="408.24" y1="134.4" y2="134.4" stroke="#ff6262" stroke-width="0.8"/>
<line x1="407.02" x2="407.02" y1="136.5" y2="139.4" stroke="#111" stroke-width="0.9" stroke-dasharray="0.9 2.1"/>
</g>
<text x="346.6" y="152.57" text-anchor="end" font-size="4.75" class="t">-12000</text>
<text x="346.6" y="143.07" text-anchor="end" font-size="4.75" class="t">-10000</text>
<text x="346.6" y="134.32" text-anchor="end" font-size="4.75" class="t">-8000</text>
<text x="346.6" y="125.07" text-anchor="end" font-size="4.75" class="t">-6000</text>
<text x="346.6" y="116.17" text-anchor="end" font-size="4.75" class="t">-4000</text>
<text x="346.6" y="107.17" text-anchor="end" font-size="4.75" class="t">-2000</text>
<text transform="translate(351.54 157.2) rotate(-90)" text-anchor="end" font-size="4.75" class="t">SABO</text>
<text transform="translate(356.3 157.2) rotate(-90)" text-anchor="end" font-size="4.75" class="t">WSO</text>
<text transform="translate(361.05 157.2) rotate(-90)" text-anchor="end" font-size="4.75" class="t">AVOA</text>
<text transform="translate(365.81 157.2) rotate(-90)" text-anchor="end" font-size="4.75" class="t">RSA</text>
<text transform="translate(370.56 157.2) rotate(-90)" text-anchor="end" font-size="4.75" class="t">MPA</text>
<text transform="translate(375.31 157.2) rotate(-90)" text-anchor="end" font-size="4.75" class="t">TSA</text>
<text transform="translate(380.07 157.2) rotate(-90)" text-anchor="end" font-size="4.75" class="t">WOA</text>
<text transform="translate(384.82 157.2) rotate(-90)" text-anchor="end" font-size="4.75" class="t">MVO</text>
<text transform="translate(389.58 157.2) rotate(-90)" text-anchor="end" font-size="4.75" class="t">GWO</text>
<text transform="translate(394.33 157.2) rotate(-90)" text-anchor="end" font-size="4.75" class="t">TLBO</text>
<text transform="translate(399.08 157.2) rotate(-90)" text-anchor="end" font-size="4.75" class="t">GSA</text>
<text transform="translate(403.84 157.2) rotate(-90)" text-anchor="end" font-size="4.75" class="t">PSO</text>
<text transform="translate(408.59 157.2) rotate(-90)" text-anchor="end" font-size="4.75" class="t">GA</text>
<text x="378.5" y="102.6" text-anchor="middle" font-size="5.2" font-weight="bold" fill="#000" stroke="#000" stroke-width="0.1">F8</text>
<text x="378.5" y="176.4" text-anchor="middle" font-size="5.3" class="t">algorithm</text>
<text transform="translate(330.82 129.2) rotate(-90)" text-anchor="middle" font-size="5.3" class="yl">objective function</text>
<rect x="19.4" y="195.9" width="68.5" height="52.25" fill="none" stroke="#9a9a9a" stroke-width="1.4"/>
<path d="M22.03 248.15v-1.3M22.03 195.9v1.3M27.3 248.15v-1.3M27.3 195.9v1.3M32.57 248.15v-1.3M32.57 195.9v1.3M37.84 248.15v-1.3M37.84 195.9v1.3M43.11 248.15v-1.3M43.11 195.9v1.3M48.38 248.15v-1.3M48.38 195.9v1.3M53.65 248.15v-1.3M53.65 195.9v1.3M58.92 248.15v-1.3M58.92 195.9v1.3M64.19 248.15v-1.3M64.19 195.9v1.3M69.46 248.15v-1.3M69.46 195.9v1.3M74.73 248.15v-1.3M74.73 195.9v1.3M80 248.15v-1.3M80 195.9v1.3M85.27 248.15v-1.3M85.27 195.9v1.3M19.4 246h1.3M87.9 246h-1.3M19.4 237.25h1.3M87.9 237.25h-1.3M19.4 228.5h1.3M87.9 228.5h-1.3M19.4 219.5h1.3M87.9 219.5h-1.3M19.4 211h1.3M87.9 211h-1.3M19.4 202h1.3M87.9 202h-1.3" stroke="#6a6a6a" stroke-width="0.55" fill="none"/>
<clipPath id="cF9"><rect x="18.9" y="193.4" width="69.5" height="57.25"/></clipPath>
<g clip-path="url(#cF9)">
<line x1="20.47" x2="23.6" y1="246" y2="246" stroke="#ff4a4a" stroke-width="0.8"/>
<path d="M25 233.75H29.6M27.3 231.45V236.05" stroke="#ff4a4a" stroke-width="0.8" fill="none"/>
<line x1="27.3" x2="27.3" y1="238" y2="239.5" stroke="#111" stroke-width="0.9" stroke-dasharray="0.9 2.1"/>
<ellipse cx="27.3" cy="241" rx="1.65" ry="1.5" fill="none" stroke="#3535ff" stroke-width="0.8"/>
<line x1="26.4" x2="28.2" y1="241" y2="241" stroke="#ff4a4a" stroke-width="0.6"/>
<line x1="31.01" x2="34.14" y1="246" y2="246" stroke="#ff4a4a" stroke-width="0.8"/>
<line x1="36.28" x2="39.41" y1="246" y2="246" stroke="#ff4a4a" stroke-width="0.8"/>
<line x1="41.55" x2="44.68" y1="246" y2="246" stroke="#ff4a4a" stroke-width="0.8"/>
<line x1="48.38" x2="48.38" y1="198.5" y2="207" stroke="#111" stroke-width="0.9" stroke-dasharray="0.9 2.1"/>
<rect x="46.81" y="207" width="3.13" height="9.25" rx="0.7" fill="none" stroke="#3535ff" stroke-width="0.6"/>
<line x1="47.01" x2="49.75" y1="212.5" y2="212.5" stroke="#ff6262" stroke-width="0.8"/>
<line x1="48.38" x2="48.38" y1="216.25" y2="229.1" stroke="#111" stroke-width="0.9" stroke-dasharray="0.9 2.1"/>
<line x1="52.08" x2="55.22" y1="246" y2="246" stroke="#ff4a4a" stroke-width="0.8"/>
<line x1="58.92" x2="58.92" y1="219.1" y2="223.25" stroke="#111" stroke-width="0.9" stroke-dasharray="0.9 2.1"/>
<rect x="57.35" y="223.25" width="3.13" height="7.15" rx="0.7" fill="none" stroke="#3535ff" stroke-width="0.6"/>
<line x1="57.55" x2="60.29" y1="228.25" y2="228.25" stroke="#ff6262" stroke-width="0.8"/>
<line x1="58.92" x2="58.92" y1="230.4" y2="237.9" stroke="#111" stroke-width="0.9" stroke-dasharray="0.9 2.1"/>
<path d="M61.89 244.5H66.49M64.19 242.2V246.8" stroke="#ff4a4a" stroke-width="0.8" fill="none"/>
<line x1="67.89" x2="71.02" y1="246" y2="246" stroke="#ff4a4a" stroke-width="0.8"/>
<path d="M72.43 238.25H77.03M74.73 235.95V240.55" stroke="#ff4a4a" stroke-width="0.8" fill="none"/>
<ellipse cx="74.73" cy="241" rx="1.77" ry="1.4" fill="#3c3cf5"/>
<line x1="73.79" x2="75.67" y1="241" y2="241" stroke="#e0206a" stroke-width="0.8"/>
<line x1="80" x2="80" y1="226" y2="233.25" stroke="#111" stroke-width="0.9" stroke-dasharray="0.9 2.1"/>
<rect x="78.43" y="233.25" width="3.13" height="4.65" rx="0.7" fill="none" stroke="#3535ff" stroke-width="0.6"/>
<line x1="78.63" x2="81.36" y1="235.75" y2="235.75" stroke="#ff6262" stroke-width="0.8"/>
<line x1="80" x2="80" y1="237.9" y2="239.75" stroke="#111" stroke-width="0.9" stroke-dasharray="0.9 2.1"/>
<line x1="85.27" x2="85.27" y1="232.25" y2="234.1" stroke="#111" stroke-width="0.9" stroke-dasharray="0.9 2.1"/>
<rect x="83.7" y="234.1" width="3.13" height="3.15" rx="0.7" fill="none" stroke="#3535ff" stroke-width="0.6"/>
<line x1="83.9" x2="86.63" y1="236" y2="236" stroke="#ff6262" stroke-width="0.8"/>
<line x1="85.27" x2="85.27" y1="237.25" y2="241" stroke="#111" stroke-width="0.9" stroke-dasharray="0.9 2.1"/>
</g>
<text x="18.4" y="247.57" text-anchor="end" font-size="4.75" class="t">0</text>
<text x="18.4" y="238.82" text-anchor="end" font-size="4.75" class="t">50</text>
<text x="18.4" y="230.07" text-anchor="end" font-size="4.75" class="t">100</text>
<text x="18.4" y="221.07" text-anchor="end" font-size="4.75" class="t">150</text>
<text x="18.4" y="212.57" text-anchor="end" font-size="4.75" class="t">200</text>
<text x="18.4" y="203.57" text-anchor="end" font-size="4.75" class="t">250</text>
<text transform="translate(23.6 250.15) rotate(-90)" text-anchor="end" font-size="4.75" class="t">SABO</text>
<text transform="translate(28.87 250.15) rotate(-90)" text-anchor="end" font-size="4.75" class="t">WSO</text>
<text transform="translate(34.14 250.15) rotate(-90)" text-anchor="end" font-size="4.75" class="t">AVOA</text>
<text transform="translate(39.41 250.15) rotate(-90)" text-anchor="end" font-size="4.75" class="t">RSA</text>
<text transform="translate(44.68 250.15) rotate(-90)" text-anchor="end" font-size="4.75" class="t">MPA</text>
<text transform="translate(49.95 250.15) rotate(-90)" text-anchor="end" font-size="4.75" class="t">TSA</text>
<text transform="translate(55.22 250.15) rotate(-90)" text-anchor="end" font-size="4.75" class="t">WOA</text>
<text transform="translate(60.49 250.15) rotate(-90)" text-anchor="end" font-size="4.75" class="t">MVO</text>
<text transform="translate(65.76 250.15) rotate(-90)" text-anchor="end" font-size="4.75" class="t">GWO</text>
<text transform="translate(71.03 250.15) rotate(-90)" text-anchor="end" font-size="4.75" class="t">TLBO</text>
<text transform="translate(76.29 250.15) rotate(-90)" text-anchor="end" font-size="4.75" class="t">GSA</text>
<text transform="translate(81.56 250.15) rotate(-90)" text-anchor="end" font-size="4.75" class="t">PSO</text>
<text transform="translate(86.83 250.15) rotate(-90)" text-anchor="end" font-size="4.75" class="t">GA</text>
<text x="53.65" y="195.3" text-anchor="middle" font-size="5.2" font-weight="bold" fill="#000" stroke="#000" stroke-width="0.1">F9</text>
<text x="53.65" y="269.35" text-anchor="middle" font-size="5.3" class="t">algorithm</text>
<text transform="translate(8.82 222.03) rotate(-90)" text-anchor="middle" font-size="5.3" class="yl">objective function</text>
<rect x="129.4" y="196.3" width="66" height="51.85" fill="none" stroke="#9a9a9a" stroke-width="1.4"/>
<path d="M131.94 248.15v-1.3M131.94 196.3v1.3M137.02 248.15v-1.3M137.02 196.3v1.3M142.09 248.15v-1.3M142.09 196.3v1.3M147.17 248.15v-1.3M147.17 196.3v1.3M152.25 248.15v-1.3M152.25 196.3v1.3M157.32 248.15v-1.3M157.32 196.3v1.3M162.4 248.15v-1.3M162.4 196.3v1.3M167.48 248.15v-1.3M167.48 196.3v1.3M172.55 248.15v-1.3M172.55 196.3v1.3M177.63 248.15v-1.3M177.63 196.3v1.3M182.71 248.15v-1.3M182.71 196.3v1.3M187.78 248.15v-1.3M187.78 196.3v1.3M192.86 248.15v-1.3M192.86 196.3v1.3M129.4 198.5h1.3M195.4 198.5h-1.3M129.4 232h1.3M195.4 232h-1.3" stroke="#6a6a6a" stroke-width="0.55" fill="none"/>
<clipPath id="cF10"><rect x="128.9" y="193.8" width="67" height="56.85"/></clipPath>
<g clip-path="url(#cF10)">
<ellipse cx="137.02" cy="196.4" rx="1.51" ry="0.95" fill="#4a1fb0"/>
<line x1="130.43" x2="133.45" y1="247.4" y2="247.4" stroke="#ff4a4a" stroke-width="0.8"/>
<line x1="135.51" x2="138.52" y1="247.4" y2="247.4" stroke="#ff4a4a" stroke-width="0.8"/>
<line x1="140.58" x2="143.6" y1="247.4" y2="247.4" stroke="#ff4a4a" stroke-width="0.8"/>
<line x1="145.66" x2="148.68" y1="247.4" y2="247.4" stroke="#ff4a4a" stroke-width="0.8"/>
<line x1="150.74" x2="153.75" y1="245.75" y2="245.75" stroke="#ff4a4a" stroke-width="0.8"/>
<rect x="155.81" y="196.6" width="3.02" height="47.5" rx="0.7" fill="none" stroke="#3535ff" stroke-width="0.6"/>
<line x1="156.01" x2="158.63" y1="243.75" y2="243.75" stroke="#ff6262" stroke-width="0.8"/>
<ellipse cx="157.32" cy="243.75" rx="1.51" ry="0.95" fill="#4a1fb0"/>
<path d="M160.1 245.75H164.7M162.4 243.45V248.05" stroke="#ff4a4a" stroke-width="0.8" fill="none"/>
<ellipse cx="162.4" cy="246.5" rx="1.51" ry="0.95" fill="#4a1fb0"/>
<path d="M165.18 198.5H169.78M167.48 196.2V200.8" stroke="#ff4a4a" stroke-width="0.8" fill="none"/>
<ellipse cx="167.48" cy="201" rx="1.65" ry="1.5" fill="none" stroke="#3535ff" stroke-width="0.8"/>
<line x1="166.58" x2="168.38" y1="201" y2="201" stroke="#ff4a4a" stroke-width="0.6"/>
<path d="M170.25 243.75H174.85M172.55 241.45V246.05" stroke="#ff4a4a" stroke-width="0.8" fill="none"/>
<path d="M175.33 247.9H179.93M177.63 245.6V250.2" stroke="#ff4a4a" stroke-width="0.8" fill="none"/>
<ellipse cx="182.71" cy="225.4" rx="1.51" ry="0.95" fill="#4a1fb0"/>
<ellipse cx="187.78" cy="197" rx="1.51" ry="0.95" fill="#4a1fb0"/>
<path d="M190.56 196.25H195.16M192.86 193.95V198.55" stroke="#ff4a4a" stroke-width="0.8" fill="none"/>
</g>
<text x="128.4" y="200.07" text-anchor="end" font-size="4.75" class="t">10<tspan dy="-2.14" font-size="3.32">0</tspan></text>
<text x="128.4" y="233.57" text-anchor="end" font-size="4.75" class="t">10<tspan dy="-2.14" font-size="3.32">-10</tspan></text>
<text transform="translate(133.51 250.15) rotate(-90)" text-anchor="end" font-size="4.75" class="t">SABO</text>
<text transform="translate(138.58 250.15) rotate(-90)" text-anchor="end" font-size="4.75" class="t">WSO</text>
<text transform="translate(143.66 250.15) rotate(-90)" text-anchor="end" font-size="4.75" class="t">AVOA</text>
<text transform="translate(148.74 250.15) rotate(-90)" text-anchor="end" font-size="4.75" class="t">RSA</text>
<text transform="translate(153.81 250.15) rotate(-90)" text-anchor="end" font-size="4.75" class="t">MPA</text>
<text transform="translate(158.89 250.15) rotate(-90)" text-anchor="end" font-size="4.75" class="t">TSA</text>
<text transform="translate(163.97 250.15) rotate(-90)" text-anchor="end" font-size="4.75" class="t">WOA</text>
<text transform="translate(169.04 250.15) rotate(-90)" text-anchor="end" font-size="4.75" class="t">MVO</text>
<text transform="translate(174.12 250.15) rotate(-90)" text-anchor="end" font-size="4.75" class="t">GWO</text>
<text transform="translate(179.2 250.15) rotate(-90)" text-anchor="end" font-size="4.75" class="t">TLBO</text>
<text transform="translate(184.28 250.15) rotate(-90)" text-anchor="end" font-size="4.75" class="t">GSA</text>
<text transform="translate(189.35 250.15) rotate(-90)" text-anchor="end" font-size="4.75" class="t">PSO</text>
<text transform="translate(194.43 250.15) rotate(-90)" text-anchor="end" font-size="4.75" class="t">GA</text>
<text x="162.4" y="195.7" text-anchor="middle" font-size="5.2" font-weight="bold" fill="#000" stroke="#000" stroke-width="0.1">F10</text>
<text x="162.4" y="269.35" text-anchor="middle" font-size="5.3" class="t">algorithm</text>
<text transform="translate(116.33 222.23) rotate(-90)" text-anchor="middle" font-size="5.3" class="yl">objective function</text>
<rect x="231.4" y="196.1" width="71" height="52" fill="none" stroke="#9a9a9a" stroke-width="1.4"/>
<path d="M234.13 248.1v-1.3M234.13 196.1v1.3M239.59 248.1v-1.3M239.59 196.1v1.3M245.05 248.1v-1.3M245.05 196.1v1.3M250.52 248.1v-1.3M250.52 196.1v1.3M255.98 248.1v-1.3M255.98 196.1v1.3M261.44 248.1v-1.3M261.44 196.1v1.3M266.9 248.1v-1.3M266.9 196.1v1.3M272.36 248.1v-1.3M272.36 196.1v1.3M277.82 248.1v-1.3M277.82 196.1v1.3M283.28 248.1v-1.3M283.28 196.1v1.3M288.75 248.1v-1.3M288.75 196.1v1.3M294.21 248.1v-1.3M294.21 196.1v1.3M299.67 248.1v-1.3M299.67 196.1v1.3M231.4 245.75h1.3M302.4 245.75h-1.3M231.4 231h1.3M302.4 231h-1.3M231.4 215.75h1.3M302.4 215.75h-1.3M231.4 200.4h1.3M302.4 200.4h-1.3" stroke="#6a6a6a" stroke-width="0.55" fill="none"/>
<clipPath id="cF11"><rect x="230.9" y="193.6" width="72" height="57"/></clipPath>
<g clip-path="url(#cF11)">
<line x1="232.51" x2="235.75" y1="245.75" y2="245.75" stroke="#ff4a4a" stroke-width="0.8"/>
<path d="M237.29 227.9H241.89M239.59 225.6V230.2" stroke="#ff4a4a" stroke-width="0.8" fill="none"/>
<path d="M237.29 236.6H241.89M239.59 234.3V238.9" stroke="#ff4a4a" stroke-width="0.8" fill="none"/>
<ellipse cx="239.59" cy="241" rx="1.62" ry="0.95" fill="#4a1fb0"/>
<line x1="243.43" x2="246.68" y1="245.75" y2="245.75" stroke="#ff4a4a" stroke-width="0.8"/>
<line x1="248.89" x2="252.14" y1="245.75" y2="245.75" stroke="#ff4a4a" stroke-width="0.8"/>
<line x1="254.35" x2="257.6" y1="245.75" y2="245.75" stroke="#ff4a4a" stroke-width="0.8"/>
<path d="M259.14 245.75H263.74M261.44 243.45V248.05" stroke="#ff4a4a" stroke-width="0.8" fill="none"/>
<line x1="259.82" x2="263.06" y1="245.75" y2="245.75" stroke="#ff4a4a" stroke-width="0.8"/>
<line x1="265.28" x2="268.52" y1="245.75" y2="245.75" stroke="#ff4a4a" stroke-width="0.8"/>
<ellipse cx="272.36" cy="244.5" rx="1.62" ry="0.95" fill="#4a1fb0"/>
<path d="M275.52 245.75H280.12M277.82 243.45V248.05" stroke="#ff4a4a" stroke-width="0.8" fill="none"/>
<line x1="276.2" x2="279.45" y1="245.75" y2="245.75" stroke="#ff4a4a" stroke-width="0.8"/>
<line x1="281.66" x2="284.91" y1="245.75" y2="245.75" stroke="#ff4a4a" stroke-width="0.8"/>
<line x1="288.75" x2="288.75" y1="198.5" y2="210.1" stroke="#111" stroke-width="0.9" stroke-dasharray="0.9 2.1"/>
<rect x="287.12" y="210.1" width="3.25" height="19" rx="0.7" fill="none" stroke="#3535ff" stroke-width="0.6"/>
<line x1="287.32" x2="290.17" y1="221.9" y2="221.9" stroke="#ff6262" stroke-width="0.8"/>
<line x1="288.75" x2="288.75" y1="229.1" y2="236.6" stroke="#111" stroke-width="0.9" stroke-dasharray="0.9 2.1"/>
<path d="M291.91 240.4H296.51M294.21 238.1V242.7" stroke="#ff4a4a" stroke-width="0.8" fill="none"/>
<ellipse cx="294.21" cy="245.4" rx="1.62" ry="0.95" fill="#4a1fb0"/>
<line x1="292.58" x2="295.83" y1="245.4" y2="245.4" stroke="#ff4a4a" stroke-width="0.8"/>
<ellipse cx="299.67" cy="241" rx="1.62" ry="0.95" fill="#4a1fb0"/>
</g>
<text x="230.4" y="247.32" text-anchor="end" font-size="4.75" class="t">0</text>
<text x="230.4" y="232.57" text-anchor="end" font-size="4.75" class="t">5</text>
<text x="230.4" y="217.32" text-anchor="end" font-size="4.75" class="t">10</text>
<text x="230.4" y="201.97" text-anchor="end" font-size="4.75" class="t">15</text>
<text transform="translate(235.7 250.1) rotate(-90)" text-anchor="end" font-size="4.75" class="t">SABO</text>
<text transform="translate(241.16 250.1) rotate(-90)" text-anchor="end" font-size="4.75" class="t">WSO</text>
<text transform="translate(246.62 250.1) rotate(-90)" text-anchor="end" font-size="4.75" class="t">AVOA</text>
<text transform="translate(252.08 250.1) rotate(-90)" text-anchor="end" font-size="4.75" class="t">RSA</text>
<text transform="translate(257.54 250.1) rotate(-90)" text-anchor="end" font-size="4.75" class="t">MPA</text>
<text transform="translate(263.01 250.1) rotate(-90)" text-anchor="end" font-size="4.75" class="t">TSA</text>
<text transform="translate(268.47 250.1) rotate(-90)" text-anchor="end" font-size="4.75" class="t">WOA</text>
<text transform="translate(273.93 250.1) rotate(-90)" text-anchor="end" font-size="4.75" class="t">MVO</text>
<text transform="translate(279.39 250.1) rotate(-90)" text-anchor="end" font-size="4.75" class="t">GWO</text>
<text transform="translate(284.85 250.1) rotate(-90)" text-anchor="end" font-size="4.75" class="t">TLBO</text>
<text transform="translate(290.31 250.1) rotate(-90)" text-anchor="end" font-size="4.75" class="t">GSA</text>
<text transform="translate(295.78 250.1) rotate(-90)" text-anchor="end" font-size="4.75" class="t">PSO</text>
<text transform="translate(301.24 250.1) rotate(-90)" text-anchor="end" font-size="4.75" class="t">GA</text>
<text x="266.9" y="195.5" text-anchor="middle" font-size="5.2" font-weight="bold" fill="#000" stroke="#000" stroke-width="0.1">F11</text>
<text x="266.9" y="269.3" text-anchor="middle" font-size="5.3" class="t">algorithm</text>
<text transform="translate(223.07 222.1) rotate(-90)" text-anchor="middle" font-size="5.3" class="yl">objective function</text>
<rect x="343.8" y="195.9" width="65.8" height="52.2" fill="none" stroke="#9a9a9a" stroke-width="1.4"/>
<path d="M346.33 248.1v-1.3M346.33 195.9v1.3M351.39 248.1v-1.3M351.39 195.9v1.3M356.45 248.1v-1.3M356.45 195.9v1.3M361.52 248.1v-1.3M361.52 195.9v1.3M366.58 248.1v-1.3M366.58 195.9v1.3M371.64 248.1v-1.3M371.64 195.9v1.3M376.7 248.1v-1.3M376.7 195.9v1.3M381.76 248.1v-1.3M381.76 195.9v1.3M386.82 248.1v-1.3M386.82 195.9v1.3M391.88 248.1v-1.3M391.88 195.9v1.3M396.95 248.1v-1.3M396.95 195.9v1.3M402.01 248.1v-1.3M402.01 195.9v1.3M407.07 248.1v-1.3M407.07 195.9v1.3M343.8 200.75h1.3M409.6 200.75h-1.3M343.8 228.5h1.3M409.6 228.5h-1.3" stroke="#6a6a6a" stroke-width="0.55" fill="none"/>
<clipPath id="cF12"><rect x="343.3" y="193.4" width="66.8" height="57.2"/></clipPath>
<g clip-path="url(#cF12)">
<ellipse cx="346.33" cy="246.9" rx="1.5" ry="0.95" fill="#4a1fb0"/>
<path d="M349.09 196H353.69M351.39 193.7V198.3" stroke="#ff4a4a" stroke-width="0.8" fill="none"/>
<path d="M349.09 197.5H353.69M351.39 195.2V199.8" stroke="#ff4a4a" stroke-width="0.8" fill="none"/>
<ellipse cx="351.39" cy="198.5" rx="1.5" ry="0.95" fill="#4a1fb0"/>
<ellipse cx="356.45" cy="212.25" rx="1.5" ry="0.95" fill="#4a1fb0"/>
<line x1="360.01" x2="363.02" y1="199.5" y2="199.5" stroke="#ff4a4a" stroke-width="0.8"/>
<path d="M364.28 213.25H368.88M366.58 210.95V215.55" stroke="#ff4a4a" stroke-width="0.8" fill="none"/>
<path d="M369.34 198.5H373.94M371.64 196.2V200.8" stroke="#ff4a4a" stroke-width="0.8" fill="none"/>
<ellipse cx="371.64" cy="199" rx="1.5" ry="0.95" fill="#4a1fb0"/>
<path d="M374.4 201.6H379M376.7 199.3V203.9" stroke="#ff4a4a" stroke-width="0.8" fill="none"/>
<ellipse cx="376.7" cy="202.9" rx="1.5" ry="0.95" fill="#4a1fb0"/>
<path d="M379.46 198.9H384.06M381.76 196.6V201.2" stroke="#ff4a4a" stroke-width="0.8" fill="none"/>
<ellipse cx="381.76" cy="199.6" rx="1.5" ry="0.95" fill="#4a1fb0"/>
<line x1="381.76" x2="381.76" y1="202.5" y2="203.5" stroke="#111" stroke-width="0.9" stroke-dasharray="0.9 2.1"/>
<ellipse cx="386.82" cy="202" rx="1.5" ry="0.95" fill="#4a1fb0"/>
<path d="M389.58 201H394.18M391.88 198.7V203.3" stroke="#ff4a4a" stroke-width="0.8" fill="none"/>
<ellipse cx="391.88" cy="201.3" rx="1.5" ry="0.95" fill="#4a1fb0"/>
<rect x="395.44" y="200.4" width="3.01" height="25.6" rx="0.7" fill="none" stroke="#3535ff" stroke-width="0.6"/>
<line x1="395.64" x2="398.25" y1="200.6" y2="200.6" stroke="#ff6262" stroke-width="0.8"/>
<ellipse cx="396.95" cy="200.6" rx="1.5" ry="0.95" fill="#4a1fb0"/>
<path d="M399.71 199.1H404.31M402.01 196.8V201.4" stroke="#ff4a4a" stroke-width="0.8" fill="none"/>
<ellipse cx="402.01" cy="199.5" rx="1.5" ry="0.95" fill="#4a1fb0"/>
<ellipse cx="407.07" cy="200.75" rx="1.5" ry="0.95" fill="#4a1fb0"/>
</g>
<text x="342.8" y="202.32" text-anchor="end" font-size="4.75" class="t">10<tspan dy="-2.14" font-size="3.32">0</tspan></text>
<text x="342.8" y="230.07" text-anchor="end" font-size="4.75" class="t">10<tspan dy="-2.14" font-size="3.32">-20</tspan></text>
<text transform="translate(347.9 250.1) rotate(-90)" text-anchor="end" font-size="4.75" class="t">SABO</text>
<text transform="translate(352.96 250.1) rotate(-90)" text-anchor="end" font-size="4.75" class="t">WSO</text>
<text transform="translate(358.02 250.1) rotate(-90)" text-anchor="end" font-size="4.75" class="t">AVOA</text>
<text transform="translate(363.08 250.1) rotate(-90)" text-anchor="end" font-size="4.75" class="t">RSA</text>
<text transform="translate(368.14 250.1) rotate(-90)" text-anchor="end" font-size="4.75" class="t">MPA</text>
<text transform="translate(373.21 250.1) rotate(-90)" text-anchor="end" font-size="4.75" class="t">TSA</text>
<text transform="translate(378.27 250.1) rotate(-90)" text-anchor="end" font-size="4.75" class="t">WOA</text>
<text transform="translate(383.33 250.1) rotate(-90)" text-anchor="end" font-size="4.75" class="t">MVO</text>
<text transform="translate(388.39 250.1) rotate(-90)" text-anchor="end" font-size="4.75" class="t">GWO</text>
<text transform="translate(393.45 250.1) rotate(-90)" text-anchor="end" font-size="4.75" class="t">TLBO</text>
<text transform="translate(398.51 250.1) rotate(-90)" text-anchor="end" font-size="4.75" class="t">GSA</text>
<text transform="translate(403.58 250.1) rotate(-90)" text-anchor="end" font-size="4.75" class="t">PSO</text>
<text transform="translate(408.64 250.1) rotate(-90)" text-anchor="end" font-size="4.75" class="t">GA</text>
<text x="376.7" y="195.3" text-anchor="middle" font-size="5.2" font-weight="bold" fill="#000" stroke="#000" stroke-width="0.1">F12</text>
<text x="376.7" y="269.3" text-anchor="middle" font-size="5.3" class="t">algorithm</text>
<text transform="translate(330.82 222) rotate(-90)" text-anchor="middle" font-size="5.3" class="yl">objective function</text>
<rect x="22.35" y="288.1" width="65.55" height="52.2" fill="none" stroke="#9a9a9a" stroke-width="1.4"/>
<path d="M24.87 340.3v-1.3M24.87 288.1v1.3M29.91 340.3v-1.3M29.91 288.1v1.3M34.96 340.3v-1.3M34.96 288.1v1.3M40 340.3v-1.3M40 288.1v1.3M45.04 340.3v-1.3M45.04 288.1v1.3M50.08 340.3v-1.3M50.08 288.1v1.3M55.13 340.3v-1.3M55.13 288.1v1.3M60.17 340.3v-1.3M60.17 288.1v1.3M65.21 340.3v-1.3M65.21 288.1v1.3M70.25 340.3v-1.3M70.25 288.1v1.3M75.29 340.3v-1.3M75.29 288.1v1.3M80.34 340.3v-1.3M80.34 288.1v1.3M85.38 340.3v-1.3M85.38 288.1v1.3M22.35 294.25h1.3M87.9 294.25h-1.3M22.35 321.5h1.3M87.9 321.5h-1.3" stroke="#6a6a6a" stroke-width="0.55" fill="none"/>
<clipPath id="cF13"><rect x="21.85" y="285.6" width="66.55" height="57.2"/></clipPath>
<g clip-path="url(#cF13)">
<path d="M22.57 335.75H27.17M24.87 333.45V338.05" stroke="#ff4a4a" stroke-width="0.8" fill="none"/>
<ellipse cx="24.87" cy="336.2" rx="1.5" ry="0.95" fill="#4a1fb0"/>
<rect x="28.42" y="288" width="3" height="4" rx="0.7" fill="none" stroke="#3535ff" stroke-width="0.6"/>
<line x1="28.62" x2="31.21" y1="292" y2="292" stroke="#ff6262" stroke-width="0.8"/>
<ellipse cx="29.91" cy="291.5" rx="1.5" ry="0.95" fill="#4a1fb0"/>
<ellipse cx="34.96" cy="304.9" rx="1.5" ry="0.95" fill="#4a1fb0"/>
<path d="M37.7 293.6H42.3M40 291.3V295.9" stroke="#ff4a4a" stroke-width="0.8" fill="none"/>
<line x1="38.5" x2="41.5" y1="293.6" y2="293.6" stroke="#ff4a4a" stroke-width="0.8"/>
<rect x="38.5" y="319.9" width="3" height="16.2" rx="0.7" fill="none" stroke="#3535ff" stroke-width="0.6"/>
<line x1="38.7" x2="41.3" y1="336.1" y2="336.1" stroke="#ff6262" stroke-width="0.8"/>
<path d="M42.74 296.5H47.34M45.04 294.2V298.8" stroke="#ff4a4a" stroke-width="0.8" fill="none"/>
<ellipse cx="45.04" cy="305.75" rx="1.5" ry="0.95" fill="#4a1fb0"/>
<line x1="48.58" x2="51.58" y1="293.6" y2="293.6" stroke="#7a2aa8" stroke-width="0.9"/>
<path d="M52.83 294.25H57.43M55.13 291.95V296.55" stroke="#ff4a4a" stroke-width="0.8" fill="none"/>
<ellipse cx="55.13" cy="294.8" rx="1.5" ry="0.95" fill="#4a1fb0"/>
<path d="M57.87 295.5H62.47M60.17 293.2V297.8" stroke="#ff4a4a" stroke-width="0.8" fill="none"/>
<ellipse cx="60.17" cy="296" rx="1.5" ry="0.95" fill="#4a1fb0"/>
<line x1="63.71" x2="66.71" y1="294" y2="294" stroke="#7a2aa8" stroke-width="0.9"/>
<line x1="65.21" x2="65.21" y1="296.75" y2="300" stroke="#111" stroke-width="0.9" stroke-dasharray="0.9 2.1"/>
<line x1="68.75" x2="71.75" y1="294" y2="294" stroke="#7a2aa8" stroke-width="0.9"/>
<path d="M72.99 295.25H77.59M75.29 292.95V297.55" stroke="#ff4a4a" stroke-width="0.8" fill="none"/>
<rect x="73.8" y="295.5" width="3" height="21.9" rx="0.7" fill="none" stroke="#3535ff" stroke-width="0.6"/>
<line x1="74" x2="76.59" y1="317" y2="317" stroke="#ff6262" stroke-width="0.8"/>
<ellipse cx="80.34" cy="292.75" rx="1.5" ry="0.95" fill="#4a1fb0"/>
<line x1="80.34" x2="80.34" y1="294" y2="295" stroke="#111" stroke-width="0.9" stroke-dasharray="0.9 2.1"/>
<line x1="83.88" x2="86.88" y1="293.6" y2="293.6" stroke="#7a2aa8" stroke-width="0.9"/>
</g>
<text x="21.35" y="295.82" text-anchor="end" font-size="4.75" class="t">10<tspan dy="-2.14" font-size="3.32">0</tspan></text>
<text x="21.35" y="323.07" text-anchor="end" font-size="4.75" class="t">10<tspan dy="-2.14" font-size="3.32">-20</tspan></text>
<text transform="translate(26.44 342.3) rotate(-90)" text-anchor="end" font-size="4.75" class="t">SABO</text>
<text transform="translate(31.48 342.3) rotate(-90)" text-anchor="end" font-size="4.75" class="t">WSO</text>
<text transform="translate(36.52 342.3) rotate(-90)" text-anchor="end" font-size="4.75" class="t">AVOA</text>
<text transform="translate(41.57 342.3) rotate(-90)" text-anchor="end" font-size="4.75" class="t">RSA</text>
<text transform="translate(46.61 342.3) rotate(-90)" text-anchor="end" font-size="4.75" class="t">MPA</text>
<text transform="translate(51.65 342.3) rotate(-90)" text-anchor="end" font-size="4.75" class="t">TSA</text>
<text transform="translate(56.69 342.3) rotate(-90)" text-anchor="end" font-size="4.75" class="t">WOA</text>
<text transform="translate(61.73 342.3) rotate(-90)" text-anchor="end" font-size="4.75" class="t">MVO</text>
<text transform="translate(66.78 342.3) rotate(-90)" text-anchor="end" font-size="4.75" class="t">GWO</text>
<text transform="translate(71.82 342.3) rotate(-90)" text-anchor="end" font-size="4.75" class="t">TLBO</text>
<text transform="translate(76.86 342.3) rotate(-90)" text-anchor="end" font-size="4.75" class="t">GSA</text>
<text transform="translate(81.9 342.3) rotate(-90)" text-anchor="end" font-size="4.75" class="t">PSO</text>
<text transform="translate(86.95 342.3) rotate(-90)" text-anchor="end" font-size="4.75" class="t">GA</text>
<text x="55.12" y="287.5" text-anchor="middle" font-size="5.2" font-weight="bold" fill="#000" stroke="#000" stroke-width="0.1">F13</text>
<text x="55.12" y="361.5" text-anchor="middle" font-size="5.3" class="t">algorithm</text>
<text transform="translate(8.82 314.2) rotate(-90)" text-anchor="middle" font-size="5.3" class="yl">objective function</text>
<rect x="126.15" y="288.3" width="69.15" height="52" fill="none" stroke="#9a9a9a" stroke-width="1.4"/>
<path d="M128.81 340.3v-1.3M128.81 288.3v1.3M134.13 340.3v-1.3M134.13 288.3v1.3M139.45 340.3v-1.3M139.45 288.3v1.3M144.77 340.3v-1.3M144.77 288.3v1.3M150.09 340.3v-1.3M150.09 288.3v1.3M155.41 340.3v-1.3M155.41 288.3v1.3M160.73 340.3v-1.3M160.73 288.3v1.3M166.04 340.3v-1.3M166.04 288.3v1.3M171.36 340.3v-1.3M171.36 288.3v1.3M176.68 340.3v-1.3M176.68 288.3v1.3M182 340.3v-1.3M182 288.3v1.3M187.32 340.3v-1.3M187.32 288.3v1.3M192.64 340.3v-1.3M192.64 288.3v1.3M126.15 299.5h1.3M195.3 299.5h-1.3M126.15 341.1h1.3M195.3 341.1h-1.3" stroke="#6a6a6a" stroke-width="0.55" fill="none"/>
<clipPath id="cF14"><rect x="125.65" y="285.8" width="70.15" height="57"/></clipPath>
<g clip-path="url(#cF14)">
<path d="M126.51 340.5H131.11M128.81 338.2V342.8" stroke="#ff4a4a" stroke-width="0.8" fill="none"/>
<path d="M131.83 315.5H136.43M134.13 313.2V317.8" stroke="#ff4a4a" stroke-width="0.8" fill="none"/>
<path d="M131.83 340.5H136.43M134.13 338.2V342.8" stroke="#ff4a4a" stroke-width="0.8" fill="none"/>
<path d="M137.15 320.75H141.75M139.45 318.45V323.05" stroke="#ff4a4a" stroke-width="0.8" fill="none"/>
<path d="M137.15 328H141.75M139.45 325.7V330.3" stroke="#ff4a4a" stroke-width="0.8" fill="none"/>
<path d="M142.47 297.75H147.07M144.77 295.45V300.05" stroke="#ff4a4a" stroke-width="0.8" fill="none"/>
<path d="M142.47 305.25H147.07M144.77 302.95V307.55" stroke="#ff4a4a" stroke-width="0.8" fill="none"/>
<rect x="143.19" y="320.5" width="3.16" height="6.9" rx="0.7" fill="none" stroke="#3535ff" stroke-width="0.6"/>
<line x1="143.39" x2="146.15" y1="320.5" y2="320.5" stroke="#ff6262" stroke-width="0.8"/>
<line x1="144.77" x2="144.77" y1="327.4" y2="340" stroke="#111" stroke-width="0.9" stroke-dasharray="0.9 2.1"/>
<path d="M147.79 340.5H152.39M150.09 338.2V342.8" stroke="#ff4a4a" stroke-width="0.8" fill="none"/>
<line x1="155.41" x2="155.41" y1="289" y2="294.25" stroke="#111" stroke-width="0.9" stroke-dasharray="0.9 2.1"/>
<rect x="153.83" y="294.25" width="3.16" height="26.5" rx="0.7" fill="none" stroke="#3535ff" stroke-width="0.6"/>
<line x1="154.03" x2="156.79" y1="294.25" y2="294.25" stroke="#ff6262" stroke-width="0.8"/>
<line x1="155.41" x2="155.41" y1="320.75" y2="340" stroke="#111" stroke-width="0.9" stroke-dasharray="0.9 2.1"/>
<path d="M158.43 297.4H163.03M160.73 295.1V299.7" stroke="#ff4a4a" stroke-width="0.8" fill="none"/>
<path d="M158.43 320.5H163.03M160.73 318.2V322.8" stroke="#ff4a4a" stroke-width="0.8" fill="none"/>
<line x1="164.46" x2="167.62" y1="340.1" y2="340.1" stroke="#ff4a4a" stroke-width="0.8"/>
<rect x="169.78" y="297.4" width="3.16" height="42.9" rx="0.7" fill="none" stroke="#3535ff" stroke-width="0.6"/>
<line x1="169.98" x2="172.74" y1="320.5" y2="320.5" stroke="#ff6262" stroke-width="0.8"/>
<path d="M174.38 320.5H178.98M176.68 318.2V322.8" stroke="#ff4a4a" stroke-width="0.8" fill="none"/>
<path d="M174.38 340.5H178.98M176.68 338.2V342.8" stroke="#ff4a4a" stroke-width="0.8" fill="none"/>
<line x1="182" x2="182" y1="300.5" y2="306.5" stroke="#111" stroke-width="0.9" stroke-dasharray="0.9 2.1"/>
<rect x="180.42" y="306.5" width="3.16" height="22.75" rx="0.7" fill="none" stroke="#3535ff" stroke-width="0.6"/>
<line x1="180.62" x2="183.38" y1="319.25" y2="319.25" stroke="#ff6262" stroke-width="0.8"/>
<line x1="182" x2="182" y1="329.25" y2="336.75" stroke="#111" stroke-width="0.9" stroke-dasharray="0.9 2.1"/>
<path d="M185.02 291.1H189.62M187.32 288.8V293.4" stroke="#ff4a4a" stroke-width="0.8" fill="none"/>
<line x1="187.32" x2="187.32" y1="302.4" y2="315.25" stroke="#111" stroke-width="0.9" stroke-dasharray="0.9 2.1"/>
<rect x="185.74" y="315.25" width="3.16" height="25.05" rx="0.7" fill="none" stroke="#3535ff" stroke-width="0.6"/>
<line x1="185.94" x2="188.7" y1="324" y2="324" stroke="#ff6262" stroke-width="0.8"/>
<path d="M190.34 328H194.94M192.64 325.7V330.3" stroke="#ff4a4a" stroke-width="0.8" fill="none"/>
<path d="M190.34 340.5H194.94M192.64 338.2V342.8" stroke="#ff4a4a" stroke-width="0.8" fill="none"/>
</g>
<text x="125.15" y="301.07" text-anchor="end" font-size="4.75" class="t">10<tspan dy="-2.14" font-size="3.32">1</tspan></text>
<text x="125.15" y="342.67" text-anchor="end" font-size="4.75" class="t">10<tspan dy="-2.14" font-size="3.32">0</tspan></text>
<text transform="translate(130.38 342.3) rotate(-90)" text-anchor="end" font-size="4.75" class="t">SABO</text>
<text transform="translate(135.7 342.3) rotate(-90)" text-anchor="end" font-size="4.75" class="t">WSO</text>
<text transform="translate(141.02 342.3) rotate(-90)" text-anchor="end" font-size="4.75" class="t">AVOA</text>
<text transform="translate(146.33 342.3) rotate(-90)" text-anchor="end" font-size="4.75" class="t">RSA</text>
<text transform="translate(151.65 342.3) rotate(-90)" text-anchor="end" font-size="4.75" class="t">MPA</text>
<text transform="translate(156.97 342.3) rotate(-90)" text-anchor="end" font-size="4.75" class="t">TSA</text>
<text transform="translate(162.29 342.3) rotate(-90)" text-anchor="end" font-size="4.75" class="t">WOA</text>
<text transform="translate(167.61 342.3) rotate(-90)" text-anchor="end" font-size="4.75" class="t">MVO</text>
<text transform="translate(172.93 342.3) rotate(-90)" text-anchor="end" font-size="4.75" class="t">GWO</text>
<text transform="translate(178.25 342.3) rotate(-90)" text-anchor="end" font-size="4.75" class="t">TLBO</text>
<text transform="translate(183.57 342.3) rotate(-90)" text-anchor="end" font-size="4.75" class="t">GSA</text>
<text transform="translate(188.89 342.3) rotate(-90)" text-anchor="end" font-size="4.75" class="t">PSO</text>
<text transform="translate(194.21 342.3) rotate(-90)" text-anchor="end" font-size="4.75" class="t">GA</text>
<text x="160.73" y="287.7" text-anchor="middle" font-size="5.2" font-weight="bold" fill="#000" stroke="#000" stroke-width="0.1">F14</text>
<text x="160.73" y="361.5" text-anchor="middle" font-size="5.3" class="t">algorithm</text>
<text transform="translate(116.33 314.3) rotate(-90)" text-anchor="middle" font-size="5.3" class="yl">objective function</text>
<rect x="234.5" y="288.3" width="68" height="52" fill="none" stroke="#9a9a9a" stroke-width="1.4"/>
<path d="M237.12 340.3v-1.3M237.12 288.3v1.3M242.35 340.3v-1.3M242.35 288.3v1.3M247.58 340.3v-1.3M247.58 288.3v1.3M252.81 340.3v-1.3M252.81 288.3v1.3M258.04 340.3v-1.3M258.04 288.3v1.3M263.27 340.3v-1.3M263.27 288.3v1.3M268.5 340.3v-1.3M268.5 288.3v1.3M273.73 340.3v-1.3M273.73 288.3v1.3M278.96 340.3v-1.3M278.96 288.3v1.3M284.19 340.3v-1.3M284.19 288.3v1.3M289.42 340.3v-1.3M289.42 288.3v1.3M294.65 340.3v-1.3M294.65 288.3v1.3M299.88 340.3v-1.3M299.88 288.3v1.3M234.5 307.75h1.3M302.5 307.75h-1.3M234.5 329.25h1.3M302.5 329.25h-1.3" stroke="#6a6a6a" stroke-width="0.55" fill="none"/>
<clipPath id="cF15"><rect x="234" y="285.8" width="69" height="57"/></clipPath>
<g clip-path="url(#cF15)">
<line x1="235.56" x2="238.67" y1="340" y2="340" stroke="#ff4a4a" stroke-width="0.8"/>
<path d="M240.05 339.9H244.65M242.35 337.6V342.2" stroke="#ff4a4a" stroke-width="0.8" fill="none"/>
<path d="M245.28 335.75H249.88M247.58 333.45V338.05" stroke="#ff4a4a" stroke-width="0.8" fill="none"/>
<path d="M245.28 336.6H249.88M247.58 334.3V338.9" stroke="#ff4a4a" stroke-width="0.8" fill="none"/>
<ellipse cx="247.58" cy="339.25" rx="1.55" ry="0.95" fill="#4a1fb0"/>
<line x1="252.81" x2="252.81" y1="321.1" y2="324.5" stroke="#111" stroke-width="0.9" stroke-dasharray="0.9 2.1"/>
<rect x="251.25" y="324.5" width="3.11" height="6.6" rx="0.7" fill="none" stroke="#3535ff" stroke-width="0.6"/>
<line x1="251.45" x2="254.16" y1="328.6" y2="328.6" stroke="#ff6262" stroke-width="0.8"/>
<line x1="252.81" x2="252.81" y1="331.1" y2="334.25" stroke="#111" stroke-width="0.9" stroke-dasharray="0.9 2.1"/>
<line x1="258.04" x2="258.04" y1="322" y2="327" stroke="#111" stroke-width="0.9" stroke-dasharray="0.9 2.1"/>
<rect x="256.48" y="327" width="3.11" height="13" rx="0.7" fill="none" stroke="#3535ff" stroke-width="0.6"/>
<line x1="256.68" x2="259.39" y1="340" y2="340" stroke="#ff6262" stroke-width="0.8"/>
<path d="M260.97 290.5H265.57M263.27 288.2V292.8" stroke="#ff4a4a" stroke-width="0.8" fill="none"/>
<rect x="261.71" y="299.5" width="3.11" height="39.75" rx="0.7" fill="none" stroke="#3535ff" stroke-width="0.6"/>
<line x1="261.91" x2="264.62" y1="333" y2="333" stroke="#ff6262" stroke-width="0.8"/>
<path d="M266.2 325.25H270.8M268.5 322.95V327.55" stroke="#ff4a4a" stroke-width="0.8" fill="none"/>
<line x1="268.5" x2="268.5" y1="327.5" y2="331.75" stroke="#111" stroke-width="0.9" stroke-dasharray="0.9 2.1"/>
<rect x="266.95" y="331.75" width="3.11" height="7.5" rx="0.7" fill="none" stroke="#3535ff" stroke-width="0.6"/>
<line x1="267.15" x2="269.85" y1="334.25" y2="334.25" stroke="#ff6262" stroke-width="0.8"/>
<path d="M271.43 290.5H276.03M273.73 288.2V292.8" stroke="#ff4a4a" stroke-width="0.8" fill="none"/>
<path d="M271.43 300.5H276.03M273.73 298.2V302.8" stroke="#ff4a4a" stroke-width="0.8" fill="none"/>
<rect x="272.18" y="327" width="3.11" height="7.9" rx="0.7" fill="none" stroke="#3535ff" stroke-width="0.6"/>
<line x1="272.38" x2="275.09" y1="333" y2="333" stroke="#ff6262" stroke-width="0.8"/>
<line x1="273.73" x2="273.73" y1="334.9" y2="339" stroke="#111" stroke-width="0.9" stroke-dasharray="0.9 2.1"/>
<path d="M276.66 300.5H281.26M278.96 298.2V302.8" stroke="#ff4a4a" stroke-width="0.8" fill="none"/>
<rect x="277.41" y="324.9" width="3.11" height="15.1" rx="0.7" fill="none" stroke="#3535ff" stroke-width="0.6"/>
<line x1="277.61" x2="280.32" y1="340" y2="340" stroke="#ff6262" stroke-width="0.8"/>
<path d="M281.89 300.5H286.49M284.19 298.2V302.8" stroke="#ff4a4a" stroke-width="0.8" fill="none"/>
<line x1="284.19" x2="284.19" y1="325" y2="328.6" stroke="#111" stroke-width="0.9" stroke-dasharray="0.9 2.1"/>
<rect x="282.64" y="328.6" width="3.11" height="11.4" rx="0.7" fill="none" stroke="#3535ff" stroke-width="0.6"/>
<line x1="282.84" x2="285.55" y1="340" y2="340" stroke="#ff6262" stroke-width="0.8"/>
<path d="M287.12 316.1H291.72M289.42 313.8V318.4" stroke="#ff4a4a" stroke-width="0.8" fill="none"/>
<rect x="287.87" y="320.25" width="3.11" height="2.15" rx="0.7" fill="none" stroke="#3535ff" stroke-width="0.6"/>
<line x1="288.07" x2="290.78" y1="321.3" y2="321.3" stroke="#ff6262" stroke-width="0.8"/>
<line x1="289.42" x2="289.42" y1="322.4" y2="324.5" stroke="#111" stroke-width="0.9" stroke-dasharray="0.9 2.1"/>
<path d="M292.35 290.5H296.95M294.65 288.2V292.8" stroke="#ff4a4a" stroke-width="0.8" fill="none"/>
<path d="M292.35 300.5H296.95M294.65 298.2V302.8" stroke="#ff4a4a" stroke-width="0.8" fill="none"/>
<path d="M292.35 316.5H296.95M294.65 314.2V318.8" stroke="#ff4a4a" stroke-width="0.8" fill="none"/>
<rect x="293.1" y="325.25" width="3.11" height="14.75" rx="0.7" fill="none" stroke="#3535ff" stroke-width="0.6"/>
<line x1="293.3" x2="296.01" y1="336.5" y2="336.5" stroke="#ff6262" stroke-width="0.8"/>
<path d="M297.58 288H302.18M299.88 285.7V290.3" stroke="#ff4a4a" stroke-width="0.8" fill="none"/>
<rect x="298.33" y="298" width="3.11" height="25.25" rx="0.7" fill="none" stroke="#3535ff" stroke-width="0.6"/>
<line x1="298.53" x2="301.24" y1="303" y2="303" stroke="#ff6262" stroke-width="0.8"/>
<line x1="299.88" x2="299.88" y1="323.25" y2="331" stroke="#111" stroke-width="0.9" stroke-dasharray="0.9 2.1"/>
</g>
<text x="233.5" y="309.32" text-anchor="end" font-size="4.75" class="t">10<tspan dy="-2.14" font-size="3.32">-2</tspan></text>
<text x="233.5" y="330.82" text-anchor="end" font-size="4.75" class="t">10<tspan dy="-2.14" font-size="3.32">-3</tspan></text>
<text transform="translate(238.68 342.3) rotate(-90)" text-anchor="end" font-size="4.75" class="t">SABO</text>
<text transform="translate(243.91 342.3) rotate(-90)" text-anchor="end" font-size="4.75" class="t">WSO</text>
<text transform="translate(249.14 342.3) rotate(-90)" text-anchor="end" font-size="4.75" class="t">AVOA</text>
<text transform="translate(254.38 342.3) rotate(-90)" text-anchor="end" font-size="4.75" class="t">RSA</text>
<text transform="translate(259.61 342.3) rotate(-90)" text-anchor="end" font-size="4.75" class="t">MPA</text>
<text transform="translate(264.84 342.3) rotate(-90)" text-anchor="end" font-size="4.75" class="t">TSA</text>
<text transform="translate(270.07 342.3) rotate(-90)" text-anchor="end" font-size="4.75" class="t">WOA</text>
<text transform="translate(275.3 342.3) rotate(-90)" text-anchor="end" font-size="4.75" class="t">MVO</text>
<text transform="translate(280.53 342.3) rotate(-90)" text-anchor="end" font-size="4.75" class="t">GWO</text>
<text transform="translate(285.76 342.3) rotate(-90)" text-anchor="end" font-size="4.75" class="t">TLBO</text>
<text transform="translate(290.99 342.3) rotate(-90)" text-anchor="end" font-size="4.75" class="t">GSA</text>
<text transform="translate(296.22 342.3) rotate(-90)" text-anchor="end" font-size="4.75" class="t">PSO</text>
<text transform="translate(301.45 342.3) rotate(-90)" text-anchor="end" font-size="4.75" class="t">GA</text>
<text x="268.5" y="287.7" text-anchor="middle" font-size="5.2" font-weight="bold" fill="#000" stroke="#000" stroke-width="0.1">F15</text>
<text x="268.5" y="361.5" text-anchor="middle" font-size="5.3" class="t">algorithm</text>
<text transform="translate(223.07 314.3) rotate(-90)" text-anchor="middle" font-size="5.3" class="yl">objective function</text>
<rect x="346.5" y="288.3" width="62.9" height="51.85" fill="none" stroke="#9a9a9a" stroke-width="1.4"/>
<path d="M348.92 340.15v-1.3M348.92 288.3v1.3M353.76 340.15v-1.3M353.76 288.3v1.3M358.6 340.15v-1.3M358.6 288.3v1.3M363.43 340.15v-1.3M363.43 288.3v1.3M368.27 340.15v-1.3M368.27 288.3v1.3M373.11 340.15v-1.3M373.11 288.3v1.3M377.95 340.15v-1.3M377.95 288.3v1.3M382.79 340.15v-1.3M382.79 288.3v1.3M387.63 340.15v-1.3M387.63 288.3v1.3M392.47 340.15v-1.3M392.47 288.3v1.3M397.3 340.15v-1.3M397.3 288.3v1.3M402.14 340.15v-1.3M402.14 288.3v1.3M406.98 340.15v-1.3M406.98 288.3v1.3M346.5 290.5h1.3M409.4 290.5h-1.3M346.5 305.5h1.3M409.4 305.5h-1.3M346.5 321.1h1.3M409.4 321.1h-1.3M346.5 336.1h1.3M409.4 336.1h-1.3" stroke="#6a6a6a" stroke-width="0.55" fill="none"/>
<clipPath id="cF16"><rect x="346" y="285.8" width="63.9" height="56.85"/></clipPath>
<g clip-path="url(#cF16)">
<path d="M346.62 338H351.22M348.92 335.7V340.3" stroke="#ff4a4a" stroke-width="0.8" fill="none"/>
<line x1="347.48" x2="350.36" y1="338" y2="338" stroke="#ff4a4a" stroke-width="0.8"/>
<path d="M351.46 338H356.06M353.76 335.7V340.3" stroke="#ff4a4a" stroke-width="0.8" fill="none"/>
<line x1="352.32" x2="355.2" y1="338" y2="338" stroke="#ff4a4a" stroke-width="0.8"/>
<path d="M356.3 338H360.9M358.6 335.7V340.3" stroke="#ff4a4a" stroke-width="0.8" fill="none"/>
<line x1="357.16" x2="360.03" y1="338" y2="338" stroke="#ff4a4a" stroke-width="0.8"/>
<path d="M361.13 290.5H365.73M363.43 288.2V292.8" stroke="#ff4a4a" stroke-width="0.8" fill="none"/>
<path d="M361.13 332H365.73M363.43 329.7V334.3" stroke="#ff4a4a" stroke-width="0.8" fill="none"/>
<ellipse cx="363.43" cy="336.1" rx="1.65" ry="1.5" fill="none" stroke="#3535ff" stroke-width="0.8"/>
<line x1="362.53" x2="364.33" y1="336.1" y2="336.1" stroke="#ff4a4a" stroke-width="0.6"/>
<line x1="366.84" x2="369.71" y1="338" y2="338" stroke="#ff4a4a" stroke-width="0.8"/>
<path d="M370.81 290.5H375.41M373.11 288.2V292.8" stroke="#ff4a4a" stroke-width="0.8" fill="none"/>
<line x1="371.67" x2="374.55" y1="338" y2="338" stroke="#ff4a4a" stroke-width="0.8"/>
<path d="M375.65 338H380.25M377.95 335.7V340.3" stroke="#ff4a4a" stroke-width="0.8" fill="none"/>
<line x1="376.51" x2="379.39" y1="338" y2="338" stroke="#ff4a4a" stroke-width="0.8"/>
<line x1="381.35" x2="384.23" y1="338" y2="338" stroke="#ff4a4a" stroke-width="0.8"/>
<line x1="386.19" x2="389.06" y1="338" y2="338" stroke="#ff4a4a" stroke-width="0.8"/>
<path d="M390.17 338H394.77M392.47 335.7V340.3" stroke="#ff4a4a" stroke-width="0.8" fill="none"/>
<line x1="391.03" x2="393.9" y1="338" y2="338" stroke="#ff4a4a" stroke-width="0.8"/>
<line x1="395.87" x2="398.74" y1="338" y2="338" stroke="#ff4a4a" stroke-width="0.8"/>
<path d="M399.84 338H404.44M402.14 335.7V340.3" stroke="#ff4a4a" stroke-width="0.8" fill="none"/>
<line x1="400.7" x2="403.58" y1="338" y2="338" stroke="#ff4a4a" stroke-width="0.8"/>
<path d="M404.68 338H409.28M406.98 335.7V340.3" stroke="#ff4a4a" stroke-width="0.8" fill="none"/>
<line x1="405.54" x2="408.42" y1="338" y2="338" stroke="#ff4a4a" stroke-width="0.8"/>
</g>
<text x="345.5" y="292.07" text-anchor="end" font-size="4.75" class="t">-1</text>
<text x="345.5" y="307.07" text-anchor="end" font-size="4.75" class="t">-1.01</text>
<text x="345.5" y="322.67" text-anchor="end" font-size="4.75" class="t">-1.02</text>
<text x="345.5" y="337.67" text-anchor="end" font-size="4.75" class="t">-1.03</text>
<text transform="translate(350.49 342.15) rotate(-90)" text-anchor="end" font-size="4.75" class="t">SABO</text>
<text transform="translate(355.33 342.15) rotate(-90)" text-anchor="end" font-size="4.75" class="t">WSO</text>
<text transform="translate(360.16 342.15) rotate(-90)" text-anchor="end" font-size="4.75" class="t">AVOA</text>
<text transform="translate(365 342.15) rotate(-90)" text-anchor="end" font-size="4.75" class="t">RSA</text>
<text transform="translate(369.84 342.15) rotate(-90)" text-anchor="end" font-size="4.75" class="t">MPA</text>
<text transform="translate(374.68 342.15) rotate(-90)" text-anchor="end" font-size="4.75" class="t">TSA</text>
<text transform="translate(379.52 342.15) rotate(-90)" text-anchor="end" font-size="4.75" class="t">WOA</text>
<text transform="translate(384.36 342.15) rotate(-90)" text-anchor="end" font-size="4.75" class="t">MVO</text>
<text transform="translate(389.19 342.15) rotate(-90)" text-anchor="end" font-size="4.75" class="t">GWO</text>
<text transform="translate(394.03 342.15) rotate(-90)" text-anchor="end" font-size="4.75" class="t">TLBO</text>
<text transform="translate(398.87 342.15) rotate(-90)" text-anchor="end" font-size="4.75" class="t">GSA</text>
<text transform="translate(403.71 342.15) rotate(-90)" text-anchor="end" font-size="4.75" class="t">PSO</text>
<text transform="translate(408.55 342.15) rotate(-90)" text-anchor="end" font-size="4.75" class="t">GA</text>
<text x="377.95" y="287.7" text-anchor="middle" font-size="5.2" font-weight="bold" fill="#000" stroke="#000" stroke-width="0.1">F16</text>
<text x="377.95" y="361.35" text-anchor="middle" font-size="5.3" class="t">algorithm</text>
<text transform="translate(332.72 314.23) rotate(-90)" text-anchor="middle" font-size="5.3" class="yl">objective function</text>
<rect x="18.35" y="380.3" width="69.75" height="51.85" fill="none" stroke="#9a9a9a" stroke-width="1.4"/>
<path d="M21.03 432.15v-1.3M21.03 380.3v1.3M26.4 432.15v-1.3M26.4 380.3v1.3M31.76 432.15v-1.3M31.76 380.3v1.3M37.13 432.15v-1.3M37.13 380.3v1.3M42.49 432.15v-1.3M42.49 380.3v1.3M47.86 432.15v-1.3M47.86 380.3v1.3M53.23 432.15v-1.3M53.23 380.3v1.3M58.59 432.15v-1.3M58.59 380.3v1.3M63.96 432.15v-1.3M63.96 380.3v1.3M69.32 432.15v-1.3M69.32 380.3v1.3M74.69 432.15v-1.3M74.69 380.3v1.3M80.05 432.15v-1.3M80.05 380.3v1.3M85.42 432.15v-1.3M85.42 380.3v1.3M18.35 426.4h1.3M88.1 426.4h-1.3M18.35 408.9h1.3M88.1 408.9h-1.3M18.35 391.4h1.3M88.1 391.4h-1.3" stroke="#6a6a6a" stroke-width="0.55" fill="none"/>
<clipPath id="cF17"><rect x="17.85" y="377.8" width="70.75" height="56.85"/></clipPath>
<g clip-path="url(#cF17)">
<line x1="19.44" x2="22.63" y1="429.6" y2="429.6" stroke="#ff4a4a" stroke-width="0.8"/>
<path d="M24.1 429.6H28.7M26.4 427.3V431.9" stroke="#ff4a4a" stroke-width="0.8" fill="none"/>
<line x1="24.8" x2="27.99" y1="429.6" y2="429.6" stroke="#ff4a4a" stroke-width="0.8"/>
<path d="M29.46 429.6H34.06M31.76 427.3V431.9" stroke="#ff4a4a" stroke-width="0.8" fill="none"/>
<line x1="30.17" x2="33.36" y1="429.6" y2="429.6" stroke="#ff4a4a" stroke-width="0.8"/>
<path d="M34.83 424.75H39.43M37.13 422.45V427.05" stroke="#ff4a4a" stroke-width="0.8" fill="none"/>
<path d="M34.83 426.75H39.43M37.13 424.45V429.05" stroke="#ff4a4a" stroke-width="0.8" fill="none"/>
<ellipse cx="37.13" cy="429.3" rx="1.59" ry="0.95" fill="#4a1fb0"/>
<line x1="40.9" x2="44.09" y1="429.6" y2="429.6" stroke="#ff4a4a" stroke-width="0.8"/>
<path d="M45.56 429.75H50.16M47.86 427.45V432.05" stroke="#ff4a4a" stroke-width="0.8" fill="none"/>
<line x1="46.27" x2="49.45" y1="429.75" y2="429.75" stroke="#ff4a4a" stroke-width="0.8"/>
<path d="M50.93 429.75H55.52M53.23 427.45V432.05" stroke="#ff4a4a" stroke-width="0.8" fill="none"/>
<line x1="51.63" x2="54.82" y1="429.75" y2="429.75" stroke="#ff4a4a" stroke-width="0.8"/>
<path d="M56.29 429.75H60.89M58.59 427.45V432.05" stroke="#ff4a4a" stroke-width="0.8" fill="none"/>
<line x1="57" x2="60.18" y1="429.75" y2="429.75" stroke="#ff4a4a" stroke-width="0.8"/>
<path d="M61.66 429.75H66.26M63.96 427.45V432.05" stroke="#ff4a4a" stroke-width="0.8" fill="none"/>
<line x1="62.36" x2="65.55" y1="429.75" y2="429.75" stroke="#ff4a4a" stroke-width="0.8"/>
<path d="M67.02 428.25H71.62M69.32 425.95V430.55" stroke="#ff4a4a" stroke-width="0.8" fill="none"/>
<path d="M67.02 429.75H71.62M69.32 427.45V432.05" stroke="#ff4a4a" stroke-width="0.8" fill="none"/>
<line x1="73.09" x2="76.28" y1="429.75" y2="429.75" stroke="#ff4a4a" stroke-width="0.8"/>
<path d="M77.75 404.25H82.35M80.05 401.95V406.55" stroke="#ff4a4a" stroke-width="0.8" fill="none"/>
<path d="M77.75 407.4H82.35M80.05 405.1V409.7" stroke="#ff4a4a" stroke-width="0.8" fill="none"/>
<path d="M77.75 416.4H82.35M80.05 414.1V418.7" stroke="#ff4a4a" stroke-width="0.8" fill="none"/>
<ellipse cx="80.05" cy="427.6" rx="1.65" ry="1.5" fill="none" stroke="#3535ff" stroke-width="0.8"/>
<line x1="79.15" x2="80.95" y1="427.6" y2="427.6" stroke="#ff4a4a" stroke-width="0.6"/>
<line x1="80.05" x2="80.05" y1="425.5" y2="426.2" stroke="#111" stroke-width="0.9" stroke-dasharray="0.9 2.1"/>
<path d="M83.12 382.6H87.72M85.42 380.3V384.9" stroke="#ff4a4a" stroke-width="0.8" fill="none"/>
<path d="M83.12 429.75H87.72M85.42 427.45V432.05" stroke="#ff4a4a" stroke-width="0.8" fill="none"/>
<line x1="83.82" x2="87.01" y1="429.75" y2="429.75" stroke="#ff4a4a" stroke-width="0.8"/>
</g>
<text x="17.35" y="427.97" text-anchor="end" font-size="4.75" class="t">0.5</text>
<text x="17.35" y="410.47" text-anchor="end" font-size="4.75" class="t">1</text>
<text x="17.35" y="392.97" text-anchor="end" font-size="4.75" class="t">1.5</text>
<text transform="translate(22.6 434.15) rotate(-90)" text-anchor="end" font-size="4.75" class="t">SABO</text>
<text transform="translate(27.97 434.15) rotate(-90)" text-anchor="end" font-size="4.75" class="t">WSO</text>
<text transform="translate(33.33 434.15) rotate(-90)" text-anchor="end" font-size="4.75" class="t">AVOA</text>
<text transform="translate(38.7 434.15) rotate(-90)" text-anchor="end" font-size="4.75" class="t">RSA</text>
<text transform="translate(44.06 434.15) rotate(-90)" text-anchor="end" font-size="4.75" class="t">MPA</text>
<text transform="translate(49.43 434.15) rotate(-90)" text-anchor="end" font-size="4.75" class="t">TSA</text>
<text transform="translate(54.79 434.15) rotate(-90)" text-anchor="end" font-size="4.75" class="t">WOA</text>
<text transform="translate(60.16 434.15) rotate(-90)" text-anchor="end" font-size="4.75" class="t">MVO</text>
<text transform="translate(65.52 434.15) rotate(-90)" text-anchor="end" font-size="4.75" class="t">GWO</text>
<text transform="translate(70.89 434.15) rotate(-90)" text-anchor="end" font-size="4.75" class="t">TLBO</text>
<text transform="translate(76.25 434.15) rotate(-90)" text-anchor="end" font-size="4.75" class="t">GSA</text>
<text transform="translate(81.62 434.15) rotate(-90)" text-anchor="end" font-size="4.75" class="t">PSO</text>
<text transform="translate(86.98 434.15) rotate(-90)" text-anchor="end" font-size="4.75" class="t">GA</text>
<text x="53.22" y="379.7" text-anchor="middle" font-size="5.2" font-weight="bold" fill="#000" stroke="#000" stroke-width="0.1">F17</text>
<text x="53.22" y="453.35" text-anchor="middle" font-size="5.3" class="t">algorithm</text>
<text transform="translate(9.07 406.23) rotate(-90)" text-anchor="middle" font-size="5.3" class="yl">objective function</text>
<rect x="124.45" y="380.4" width="70.85" height="51.75" fill="none" stroke="#9a9a9a" stroke-width="1.4"/>
<path d="M127.17 432.15v-1.3M127.17 380.4v1.3M132.62 432.15v-1.3M132.62 380.4v1.3M138.08 432.15v-1.3M138.08 380.4v1.3M143.53 432.15v-1.3M143.53 380.4v1.3M148.98 432.15v-1.3M148.98 380.4v1.3M154.43 432.15v-1.3M154.43 380.4v1.3M159.88 432.15v-1.3M159.88 380.4v1.3M165.33 432.15v-1.3M165.33 380.4v1.3M170.78 432.15v-1.3M170.78 380.4v1.3M176.23 432.15v-1.3M176.23 380.4v1.3M181.68 432.15v-1.3M181.68 380.4v1.3M187.12 432.15v-1.3M187.12 380.4v1.3M192.58 432.15v-1.3M192.58 380.4v1.3M124.45 432h1.3M195.3 432h-1.3M124.45 420.1h1.3M195.3 420.1h-1.3M124.45 408.5h1.3M195.3 408.5h-1.3M124.45 397h1.3M195.3 397h-1.3M124.45 385.1h1.3M195.3 385.1h-1.3" stroke="#6a6a6a" stroke-width="0.55" fill="none"/>
<clipPath id="cF18"><rect x="123.95" y="377.9" width="71.85" height="56.75"/></clipPath>
<g clip-path="url(#cF18)">
<path d="M124.88 430.1H129.47M127.17 427.8V432.4" stroke="#ff4a4a" stroke-width="0.8" fill="none"/>
<line x1="125.56" x2="128.79" y1="430.1" y2="430.1" stroke="#ff4a4a" stroke-width="0.8"/>
<path d="M130.32 430.1H134.93M132.62 427.8V432.4" stroke="#ff4a4a" stroke-width="0.8" fill="none"/>
<line x1="131.01" x2="134.24" y1="430.1" y2="430.1" stroke="#ff4a4a" stroke-width="0.8"/>
<path d="M135.78 430.1H140.38M138.08 427.8V432.4" stroke="#ff4a4a" stroke-width="0.8" fill="none"/>
<line x1="136.46" x2="139.69" y1="430.1" y2="430.1" stroke="#ff4a4a" stroke-width="0.8"/>
<path d="M141.22 414.25H145.83M143.53 411.95V416.55" stroke="#ff4a4a" stroke-width="0.8" fill="none"/>
<path d="M141.22 414.9H145.83M143.53 412.6V417.2" stroke="#ff4a4a" stroke-width="0.8" fill="none"/>
<path d="M141.22 430.1H145.83M143.53 427.8V432.4" stroke="#ff4a4a" stroke-width="0.8" fill="none"/>
<line x1="141.91" x2="145.14" y1="430.1" y2="430.1" stroke="#ff4a4a" stroke-width="0.8"/>
<line x1="147.36" x2="150.59" y1="430.1" y2="430.1" stroke="#ff4a4a" stroke-width="0.8"/>
<path d="M152.12 383H156.73M154.43 380.7V385.3" stroke="#ff4a4a" stroke-width="0.8" fill="none"/>
<path d="M152.12 414.25H156.73M154.43 411.95V416.55" stroke="#ff4a4a" stroke-width="0.8" fill="none"/>
<path d="M152.12 430.1H156.73M154.43 427.8V432.4" stroke="#ff4a4a" stroke-width="0.8" fill="none"/>
<line x1="152.81" x2="156.04" y1="430.1" y2="430.1" stroke="#ff4a4a" stroke-width="0.8"/>
<path d="M157.57 430.1H162.18M159.88 427.8V432.4" stroke="#ff4a4a" stroke-width="0.8" fill="none"/>
<line x1="158.26" x2="161.49" y1="430.1" y2="430.1" stroke="#ff4a4a" stroke-width="0.8"/>
<line x1="163.71" x2="166.94" y1="430.1" y2="430.1" stroke="#ff4a4a" stroke-width="0.8"/>
<path d="M168.47 430.1H173.08M170.78 427.8V432.4" stroke="#ff4a4a" stroke-width="0.8" fill="none"/>
<line x1="169.16" x2="172.39" y1="430.1" y2="430.1" stroke="#ff4a4a" stroke-width="0.8"/>
<path d="M173.93 430.1H178.53M176.23 427.8V432.4" stroke="#ff4a4a" stroke-width="0.8" fill="none"/>
<line x1="174.61" x2="177.84" y1="430.1" y2="430.1" stroke="#ff4a4a" stroke-width="0.8"/>
<path d="M179.38 430.1H183.98M181.68 427.8V432.4" stroke="#ff4a4a" stroke-width="0.8" fill="none"/>
<line x1="180.06" x2="183.29" y1="430.1" y2="430.1" stroke="#ff4a4a" stroke-width="0.8"/>
<path d="M184.82 430.1H189.43M187.12 427.8V432.4" stroke="#ff4a4a" stroke-width="0.8" fill="none"/>
<line x1="185.51" x2="188.74" y1="430.1" y2="430.1" stroke="#ff4a4a" stroke-width="0.8"/>
<path d="M190.28 411.4H194.88M192.58 409.1V413.7" stroke="#ff4a4a" stroke-width="0.8" fill="none"/>
<path d="M190.28 414.25H194.88M192.58 411.95V416.55" stroke="#ff4a4a" stroke-width="0.8" fill="none"/>
<path d="M190.28 430.1H194.88M192.58 427.8V432.4" stroke="#ff4a4a" stroke-width="0.8" fill="none"/>
<line x1="190.96" x2="194.19" y1="430.1" y2="430.1" stroke="#ff4a4a" stroke-width="0.8"/>
</g>
<text x="123.45" y="433.57" text-anchor="end" font-size="4.75" class="t">0</text>
<text x="123.45" y="421.67" text-anchor="end" font-size="4.75" class="t">20</text>
<text x="123.45" y="410.07" text-anchor="end" font-size="4.75" class="t">40</text>
<text x="123.45" y="398.57" text-anchor="end" font-size="4.75" class="t">60</text>
<text x="123.45" y="386.67" text-anchor="end" font-size="4.75" class="t">80</text>
<text transform="translate(128.74 434.15) rotate(-90)" text-anchor="end" font-size="4.75" class="t">SABO</text>
<text transform="translate(134.19 434.15) rotate(-90)" text-anchor="end" font-size="4.75" class="t">WSO</text>
<text transform="translate(139.64 434.15) rotate(-90)" text-anchor="end" font-size="4.75" class="t">AVOA</text>
<text transform="translate(145.09 434.15) rotate(-90)" text-anchor="end" font-size="4.75" class="t">RSA</text>
<text transform="translate(150.54 434.15) rotate(-90)" text-anchor="end" font-size="4.75" class="t">MPA</text>
<text transform="translate(155.99 434.15) rotate(-90)" text-anchor="end" font-size="4.75" class="t">TSA</text>
<text transform="translate(161.44 434.15) rotate(-90)" text-anchor="end" font-size="4.75" class="t">WOA</text>
<text transform="translate(166.89 434.15) rotate(-90)" text-anchor="end" font-size="4.75" class="t">MVO</text>
<text transform="translate(172.34 434.15) rotate(-90)" text-anchor="end" font-size="4.75" class="t">GWO</text>
<text transform="translate(177.79 434.15) rotate(-90)" text-anchor="end" font-size="4.75" class="t">TLBO</text>
<text transform="translate(183.24 434.15) rotate(-90)" text-anchor="end" font-size="4.75" class="t">GSA</text>
<text transform="translate(188.69 434.15) rotate(-90)" text-anchor="end" font-size="4.75" class="t">PSO</text>
<text transform="translate(194.14 434.15) rotate(-90)" text-anchor="end" font-size="4.75" class="t">GA</text>
<text x="159.88" y="379.8" text-anchor="middle" font-size="5.2" font-weight="bold" fill="#000" stroke="#000" stroke-width="0.1">F18</text>
<text x="159.88" y="453.35" text-anchor="middle" font-size="5.3" class="t">algorithm</text>
<text transform="translate(115.33 406.27) rotate(-90)" text-anchor="middle" font-size="5.3" class="yl">objective function</text>
<rect x="236.45" y="380.4" width="66.05" height="51.75" fill="none" stroke="#9a9a9a" stroke-width="1.4"/>
<path d="M238.99 432.15v-1.3M238.99 380.4v1.3M244.07 432.15v-1.3M244.07 380.4v1.3M249.15 432.15v-1.3M249.15 380.4v1.3M254.23 432.15v-1.3M254.23 380.4v1.3M259.31 432.15v-1.3M259.31 380.4v1.3M264.39 432.15v-1.3M264.39 380.4v1.3M269.48 432.15v-1.3M269.48 380.4v1.3M274.56 432.15v-1.3M274.56 380.4v1.3M279.64 432.15v-1.3M279.64 380.4v1.3M284.72 432.15v-1.3M284.72 380.4v1.3M289.8 432.15v-1.3M289.8 380.4v1.3M294.88 432.15v-1.3M294.88 380.4v1.3M299.96 432.15v-1.3M299.96 380.4v1.3M236.45 425.5h1.3M302.5 425.5h-1.3M236.45 407.25h1.3M302.5 407.25h-1.3M236.45 388h1.3M302.5 388h-1.3" stroke="#6a6a6a" stroke-width="0.55" fill="none"/>
<clipPath id="cF19"><rect x="235.95" y="377.9" width="67.05" height="56.75"/></clipPath>
<g clip-path="url(#cF19)">
<line x1="237.48" x2="240.5" y1="429.5" y2="429.5" stroke="#ff4a4a" stroke-width="0.8"/>
<line x1="242.56" x2="245.58" y1="429.5" y2="429.5" stroke="#ff4a4a" stroke-width="0.8"/>
<path d="M246.85 429.5H251.45M249.15 427.2V431.8" stroke="#ff4a4a" stroke-width="0.8" fill="none"/>
<line x1="247.64" x2="250.66" y1="429.5" y2="429.5" stroke="#ff4a4a" stroke-width="0.8"/>
<path d="M251.93 382.6H256.53M254.23 380.3V384.9" stroke="#ff4a4a" stroke-width="0.8" fill="none"/>
<path d="M251.93 388.9H256.53M254.23 386.6V391.2" stroke="#ff4a4a" stroke-width="0.8" fill="none"/>
<line x1="254.23" x2="254.23" y1="394.5" y2="410.75" stroke="#111" stroke-width="0.9" stroke-dasharray="0.9 2.1"/>
<rect x="252.72" y="410.75" width="3.02" height="13.5" rx="0.7" fill="none" stroke="#3535ff" stroke-width="0.6"/>
<line x1="252.92" x2="255.54" y1="423.25" y2="423.25" stroke="#ff6262" stroke-width="0.8"/>
<line x1="254.23" x2="254.23" y1="424.25" y2="427.6" stroke="#111" stroke-width="0.9" stroke-dasharray="0.9 2.1"/>
<line x1="257.8" x2="260.82" y1="429.5" y2="429.5" stroke="#ff4a4a" stroke-width="0.8"/>
<path d="M262.09 429.5H266.69M264.39 427.2V431.8" stroke="#ff4a4a" stroke-width="0.8" fill="none"/>
<line x1="262.88" x2="265.9" y1="429.5" y2="429.5" stroke="#ff4a4a" stroke-width="0.8"/>
<path d="M267.18 425.75H271.78M269.48 423.45V428.05" stroke="#ff4a4a" stroke-width="0.8" fill="none"/>
<ellipse cx="269.48" cy="428.5" rx="1.51" ry="0.95" fill="#4a1fb0"/>
<path d="M272.26 429.5H276.86M274.56 427.2V431.8" stroke="#ff4a4a" stroke-width="0.8" fill="none"/>
<line x1="273.05" x2="276.07" y1="429.5" y2="429.5" stroke="#ff4a4a" stroke-width="0.8"/>
<ellipse cx="279.64" cy="428" rx="1.65" ry="1.5" fill="none" stroke="#3535ff" stroke-width="0.8"/>
<line x1="278.74" x2="280.54" y1="428" y2="428" stroke="#ff4a4a" stroke-width="0.6"/>
<ellipse cx="284.72" cy="428" rx="1.65" ry="1.5" fill="none" stroke="#3535ff" stroke-width="0.8"/>
<line x1="283.82" x2="285.62" y1="428" y2="428" stroke="#ff4a4a" stroke-width="0.6"/>
<path d="M287.5 429.5H292.1M289.8 427.2V431.8" stroke="#ff4a4a" stroke-width="0.8" fill="none"/>
<line x1="288.29" x2="291.31" y1="429.5" y2="429.5" stroke="#ff4a4a" stroke-width="0.8"/>
<line x1="293.37" x2="296.39" y1="429.5" y2="429.5" stroke="#ff4a4a" stroke-width="0.8"/>
<path d="M297.66 429.5H302.26M299.96 427.2V431.8" stroke="#ff4a4a" stroke-width="0.8" fill="none"/>
<line x1="298.45" x2="301.47" y1="429.5" y2="429.5" stroke="#ff4a4a" stroke-width="0.8"/>
</g>
<text x="235.45" y="427.07" text-anchor="end" font-size="4.75" class="t">-3.85</text>
<text x="235.45" y="408.82" text-anchor="end" font-size="4.75" class="t">-3.8</text>
<text x="235.45" y="389.57" text-anchor="end" font-size="4.75" class="t">-3.75</text>
<text transform="translate(240.56 434.15) rotate(-90)" text-anchor="end" font-size="4.75" class="t">SABO</text>
<text transform="translate(245.64 434.15) rotate(-90)" text-anchor="end" font-size="4.75" class="t">WSO</text>
<text transform="translate(250.72 434.15) rotate(-90)" text-anchor="end" font-size="4.75" class="t">AVOA</text>
<text transform="translate(255.8 434.15) rotate(-90)" text-anchor="end" font-size="4.75" class="t">RSA</text>
<text transform="translate(260.88 434.15) rotate(-90)" text-anchor="end" font-size="4.75" class="t">MPA</text>
<text transform="translate(265.96 434.15) rotate(-90)" text-anchor="end" font-size="4.75" class="t">TSA</text>
<text transform="translate(271.04 434.15) rotate(-90)" text-anchor="end" font-size="4.75" class="t">WOA</text>
<text transform="translate(276.12 434.15) rotate(-90)" text-anchor="end" font-size="4.75" class="t">MVO</text>
<text transform="translate(281.2 434.15) rotate(-90)" text-anchor="end" font-size="4.75" class="t">GWO</text>
<text transform="translate(286.28 434.15) rotate(-90)" text-anchor="end" font-size="4.75" class="t">TLBO</text>
<text transform="translate(291.37 434.15) rotate(-90)" text-anchor="end" font-size="4.75" class="t">GSA</text>
<text transform="translate(296.45 434.15) rotate(-90)" text-anchor="end" font-size="4.75" class="t">PSO</text>
<text transform="translate(301.53 434.15) rotate(-90)" text-anchor="end" font-size="4.75" class="t">GA</text>
<text x="269.48" y="379.8" text-anchor="middle" font-size="5.2" font-weight="bold" fill="#000" stroke="#000" stroke-width="0.1">F19</text>
<text x="269.48" y="453.35" text-anchor="middle" font-size="5.3" class="t">algorithm</text>
<text transform="translate(223.07 406.27) rotate(-90)" text-anchor="middle" font-size="5.3" class="yl">objective function</text>
<rect x="341.4" y="380.4" width="67.95" height="51.75" fill="none" stroke="#9a9a9a" stroke-width="1.4"/>
<path d="M344.01 432.15v-1.3M344.01 380.4v1.3M349.24 432.15v-1.3M349.24 380.4v1.3M354.47 432.15v-1.3M354.47 380.4v1.3M359.69 432.15v-1.3M359.69 380.4v1.3M364.92 432.15v-1.3M364.92 380.4v1.3M370.15 432.15v-1.3M370.15 380.4v1.3M375.38 432.15v-1.3M375.38 380.4v1.3M380.6 432.15v-1.3M380.6 380.4v1.3M385.83 432.15v-1.3M385.83 380.4v1.3M391.06 432.15v-1.3M391.06 380.4v1.3M396.28 432.15v-1.3M396.28 380.4v1.3M401.51 432.15v-1.3M401.51 380.4v1.3M406.74 432.15v-1.3M406.74 380.4v1.3M341.4 432.25h1.3M409.35 432.25h-1.3M341.4 421.4h1.3M409.35 421.4h-1.3M341.4 410.1h1.3M409.35 410.1h-1.3M341.4 399.25h1.3M409.35 399.25h-1.3M341.4 388h1.3M409.35 388h-1.3" stroke="#6a6a6a" stroke-width="0.55" fill="none"/>
<clipPath id="cF20"><rect x="340.9" y="377.9" width="68.95" height="56.75"/></clipPath>
<g clip-path="url(#cF20)">
<path d="M341.71 427H346.31M344.01 424.7V429.3" stroke="#ff4a4a" stroke-width="0.8" fill="none"/>
<line x1="342.46" x2="345.57" y1="427" y2="427" stroke="#ff4a4a" stroke-width="0.8"/>
<path d="M346.94 421H351.54M349.24 418.7V423.3" stroke="#ff4a4a" stroke-width="0.8" fill="none"/>
<line x1="347.69" x2="350.79" y1="427" y2="427" stroke="#ff4a4a" stroke-width="0.8"/>
<rect x="352.91" y="420.75" width="3.11" height="6.25" rx="0.7" fill="none" stroke="#3535ff" stroke-width="0.6"/>
<line x1="353.11" x2="355.82" y1="427" y2="427" stroke="#ff6262" stroke-width="0.8"/>
<line x1="359.69" x2="359.69" y1="382" y2="398.25" stroke="#111" stroke-width="0.9" stroke-dasharray="0.9 2.1"/>
<rect x="358.14" y="398.25" width="3.11" height="11.25" rx="0.7" fill="none" stroke="#3535ff" stroke-width="0.6"/>
<line x1="358.34" x2="361.05" y1="404.25" y2="404.25" stroke="#ff6262" stroke-width="0.8"/>
<line x1="359.69" x2="359.69" y1="409.5" y2="414.5" stroke="#111" stroke-width="0.9" stroke-dasharray="0.9 2.1"/>
<rect x="363.37" y="421" width="3.11" height="6" rx="0.7" fill="none" stroke="#3535ff" stroke-width="0.6"/>
<line x1="363.57" x2="366.27" y1="427" y2="427" stroke="#ff6262" stroke-width="0.8"/>
<line x1="370.15" x2="370.15" y1="418.6" y2="420.1" stroke="#111" stroke-width="0.9" stroke-dasharray="0.9 2.1"/>
<rect x="368.59" y="420.1" width="3.11" height="6.9" rx="0.7" fill="none" stroke="#3535ff" stroke-width="0.6"/>
<line x1="368.79" x2="371.5" y1="427" y2="427" stroke="#ff6262" stroke-width="0.8"/>
<line x1="375.38" x2="375.38" y1="414.5" y2="417.25" stroke="#111" stroke-width="0.9" stroke-dasharray="0.9 2.1"/>
<rect x="373.82" y="417.25" width="3.11" height="9.75" rx="0.7" fill="none" stroke="#3535ff" stroke-width="0.6"/>
<line x1="374.02" x2="376.73" y1="423.5" y2="423.5" stroke="#ff6262" stroke-width="0.8"/>
<rect x="379.05" y="420.75" width="3.11" height="6.25" rx="0.7" fill="none" stroke="#3535ff" stroke-width="0.6"/>
<line x1="379.25" x2="381.96" y1="427" y2="427" stroke="#ff6262" stroke-width="0.8"/>
<line x1="385.83" x2="385.83" y1="415" y2="418.9" stroke="#111" stroke-width="0.9" stroke-dasharray="0.9 2.1"/>
<rect x="384.28" y="418.9" width="3.11" height="8.1" rx="0.7" fill="none" stroke="#3535ff" stroke-width="0.6"/>
<line x1="384.48" x2="387.18" y1="427" y2="427" stroke="#ff6262" stroke-width="0.8"/>
<path d="M388.76 411.4H393.36M391.06 409.1V413.7" stroke="#ff4a4a" stroke-width="0.8" fill="none"/>
<line x1="391.06" x2="391.06" y1="415.75" y2="420.1" stroke="#111" stroke-width="0.9" stroke-dasharray="0.9 2.1"/>
<rect x="389.5" y="420.1" width="3.11" height="6.3" rx="0.7" fill="none" stroke="#3535ff" stroke-width="0.6"/>
<line x1="389.7" x2="392.41" y1="423" y2="423" stroke="#ff6262" stroke-width="0.8"/>
<line x1="391.06" x2="391.06" y1="426.4" y2="428.9" stroke="#111" stroke-width="0.9" stroke-dasharray="0.9 2.1"/>
<path d="M393.98 427.6H398.58M396.28 425.3V429.9" stroke="#ff4a4a" stroke-width="0.8" fill="none"/>
<path d="M399.21 417.25H403.81M401.51 414.95V419.55" stroke="#ff4a4a" stroke-width="0.8" fill="none"/>
<path d="M399.21 421H403.81M401.51 418.7V423.3" stroke="#ff4a4a" stroke-width="0.8" fill="none"/>
<line x1="399.96" x2="403.06" y1="427" y2="427" stroke="#ff4a4a" stroke-width="0.8"/>
<path d="M404.44 410.1H409.04M406.74 407.8V412.4" stroke="#ff4a4a" stroke-width="0.8" fill="none"/>
<line x1="406.74" x2="406.74" y1="417.6" y2="419.5" stroke="#111" stroke-width="0.9" stroke-dasharray="0.9 2.1"/>
<rect x="405.18" y="419.5" width="3.11" height="6" rx="0.7" fill="none" stroke="#3535ff" stroke-width="0.6"/>
<line x1="405.38" x2="408.09" y1="422.6" y2="422.6" stroke="#ff6262" stroke-width="0.8"/>
<line x1="406.74" x2="406.74" y1="425.5" y2="427" stroke="#111" stroke-width="0.9" stroke-dasharray="0.9 2.1"/>
</g>
<text x="340.4" y="433.82" text-anchor="end" font-size="4.75" class="t">-3.4</text>
<text x="340.4" y="422.97" text-anchor="end" font-size="4.75" class="t">-3.2</text>
<text x="340.4" y="411.67" text-anchor="end" font-size="4.75" class="t">-3</text>
<text x="340.4" y="400.82" text-anchor="end" font-size="4.75" class="t">-2.8</text>
<text x="340.4" y="389.57" text-anchor="end" font-size="4.75" class="t">-2.6</text>
<text transform="translate(345.58 434.15) rotate(-90)" text-anchor="end" font-size="4.75" class="t">SABO</text>
<text transform="translate(350.81 434.15) rotate(-90)" text-anchor="end" font-size="4.75" class="t">WSO</text>
<text transform="translate(356.03 434.15) rotate(-90)" text-anchor="end" font-size="4.75" class="t">AVOA</text>
<text transform="translate(361.26 434.15) rotate(-90)" text-anchor="end" font-size="4.75" class="t">RSA</text>
<text transform="translate(366.49 434.15) rotate(-90)" text-anchor="end" font-size="4.75" class="t">MPA</text>
<text transform="translate(371.72 434.15) rotate(-90)" text-anchor="end" font-size="4.75" class="t">TSA</text>
<text transform="translate(376.94 434.15) rotate(-90)" text-anchor="end" font-size="4.75" class="t">WOA</text>
<text transform="translate(382.17 434.15) rotate(-90)" text-anchor="end" font-size="4.75" class="t">MVO</text>
<text transform="translate(387.4 434.15) rotate(-90)" text-anchor="end" font-size="4.75" class="t">GWO</text>
<text transform="translate(392.62 434.15) rotate(-90)" text-anchor="end" font-size="4.75" class="t">TLBO</text>
<text transform="translate(397.85 434.15) rotate(-90)" text-anchor="end" font-size="4.75" class="t">GSA</text>
<text transform="translate(403.08 434.15) rotate(-90)" text-anchor="end" font-size="4.75" class="t">PSO</text>
<text transform="translate(408.3 434.15) rotate(-90)" text-anchor="end" font-size="4.75" class="t">GA</text>
<text x="375.38" y="379.8" text-anchor="middle" font-size="5.2" font-weight="bold" fill="#000" stroke="#000" stroke-width="0.1">F20</text>
<text x="375.38" y="453.35" text-anchor="middle" font-size="5.3" class="t">algorithm</text>
<text transform="translate(330.82 406.27) rotate(-90)" text-anchor="middle" font-size="5.3" class="yl">objective function</text>
<rect x="18.55" y="472.3" width="69.35" height="52" fill="none" stroke="#9a9a9a" stroke-width="1.4"/>
<path d="M21.22 524.3v-1.3M21.22 472.3v1.3M26.55 524.3v-1.3M26.55 472.3v1.3M31.89 524.3v-1.3M31.89 472.3v1.3M37.22 524.3v-1.3M37.22 472.3v1.3M42.56 524.3v-1.3M42.56 472.3v1.3M47.89 524.3v-1.3M47.89 472.3v1.3M53.23 524.3v-1.3M53.23 472.3v1.3M58.56 524.3v-1.3M58.56 472.3v1.3M63.89 524.3v-1.3M63.89 472.3v1.3M69.23 524.3v-1.3M69.23 472.3v1.3M74.56 524.3v-1.3M74.56 472.3v1.3M79.9 524.3v-1.3M79.9 472.3v1.3M85.23 524.3v-1.3M85.23 472.3v1.3M18.55 519.6h1.3M87.9 519.6h-1.3M18.55 511.5h1.3M87.9 511.5h-1.3M18.55 503.4h1.3M87.9 503.4h-1.3M18.55 495.25h1.3M87.9 495.25h-1.3M18.55 487.1h1.3M87.9 487.1h-1.3M18.55 479.25h1.3M87.9 479.25h-1.3" stroke="#6a6a6a" stroke-width="0.55" fill="none"/>
<clipPath id="cF21"><rect x="18.05" y="469.8" width="70.35" height="57"/></clipPath>
<g clip-path="url(#cF21)">
<line x1="19.63" x2="22.8" y1="511.5" y2="511.5" stroke="#ff4a4a" stroke-width="0.8"/>
<path d="M24.25 482.5H28.85M26.55 480.2V484.8" stroke="#ff4a4a" stroke-width="0.8" fill="none"/>
<line x1="24.97" x2="28.14" y1="511.5" y2="511.5" stroke="#ff4a4a" stroke-width="0.8"/>
<path d="M29.59 511.5H34.19M31.89 509.2V513.8" stroke="#ff4a4a" stroke-width="0.8" fill="none"/>
<path d="M29.59 511.5H34.19M31.89 509.2V513.8" stroke="#ff4a4a" stroke-width="1.12" fill="none"/>
<line x1="30.3" x2="33.47" y1="511.5" y2="511.5" stroke="#ff4a4a" stroke-width="0.8"/>
<path d="M34.92 491.75H39.52M37.22 489.45V494.05" stroke="#ff4a4a" stroke-width="0.8" fill="none"/>
<path d="M40.26 511.5H44.86M42.56 509.2V513.8" stroke="#ff4a4a" stroke-width="0.8" fill="none"/>
<line x1="40.97" x2="44.14" y1="511.5" y2="511.5" stroke="#ff4a4a" stroke-width="0.8"/>
<rect x="46.31" y="482.1" width="3.17" height="29.4" rx="0.7" fill="none" stroke="#3535ff" stroke-width="0.6"/>
<line x1="46.51" x2="49.28" y1="511.5" y2="511.5" stroke="#ff6262" stroke-width="0.8"/>
<ellipse cx="47.89" cy="511.3" rx="1.59" ry="0.95" fill="#4a1fb0"/>
<line x1="53.23" x2="53.23" y1="481.5" y2="490.9" stroke="#111" stroke-width="0.9" stroke-dasharray="0.9 2.1"/>
<rect x="51.64" y="490.9" width="3.17" height="20.6" rx="0.7" fill="none" stroke="#3535ff" stroke-width="0.6"/>
<line x1="51.84" x2="54.61" y1="511.5" y2="511.5" stroke="#ff6262" stroke-width="0.8"/>
<line x1="58.56" x2="58.56" y1="481.5" y2="490.9" stroke="#111" stroke-width="0.9" stroke-dasharray="0.9 2.1"/>
<rect x="56.97" y="490.9" width="3.17" height="20.6" rx="0.7" fill="none" stroke="#3535ff" stroke-width="0.6"/>
<line x1="57.17" x2="59.94" y1="511.5" y2="511.5" stroke="#ff6262" stroke-width="0.8"/>
<path d="M61.59 491.75H66.19M63.89 489.45V494.05" stroke="#ff4a4a" stroke-width="0.8" fill="none"/>
<line x1="62.31" x2="65.48" y1="511.5" y2="511.5" stroke="#ff4a4a" stroke-width="0.8"/>
<line x1="69.23" x2="69.23" y1="488" y2="489.6" stroke="#111" stroke-width="0.9" stroke-dasharray="0.9 2.1"/>
<rect x="67.64" y="489.6" width="3.17" height="11.65" rx="0.7" fill="none" stroke="#3535ff" stroke-width="0.6"/>
<line x1="67.84" x2="70.61" y1="490.9" y2="490.9" stroke="#ff6262" stroke-width="0.8"/>
<line x1="69.23" x2="69.23" y1="501.25" y2="504" stroke="#111" stroke-width="0.9" stroke-dasharray="0.9 2.1"/>
<rect x="72.98" y="482.1" width="3.17" height="29.65" rx="0.7" fill="none" stroke="#3535ff" stroke-width="0.6"/>
<line x1="73.18" x2="75.95" y1="485.25" y2="485.25" stroke="#ff6262" stroke-width="0.8"/>
<rect x="78.31" y="482.1" width="3.17" height="29.65" rx="0.7" fill="none" stroke="#3535ff" stroke-width="0.6"/>
<line x1="78.51" x2="81.28" y1="511.75" y2="511.75" stroke="#ff6262" stroke-width="0.8"/>
<line x1="85.23" x2="85.23" y1="480.25" y2="483.75" stroke="#111" stroke-width="0.9" stroke-dasharray="0.9 2.1"/>
<rect x="83.65" y="483.75" width="3.17" height="21.5" rx="0.7" fill="none" stroke="#3535ff" stroke-width="0.6"/>
<line x1="83.85" x2="86.62" y1="499.4" y2="499.4" stroke="#ff6262" stroke-width="0.8"/>
<line x1="85.23" x2="85.23" y1="505.25" y2="510" stroke="#111" stroke-width="0.9" stroke-dasharray="0.9 2.1"/>
</g>
<text x="17.55" y="521.17" text-anchor="end" font-size="4.75" class="t">-12</text>
<text x="17.55" y="513.07" text-anchor="end" font-size="4.75" class="t">-10</text>
<text x="17.55" y="504.97" text-anchor="end" font-size="4.75" class="t">-8</text>
<text x="17.55" y="496.82" text-anchor="end" font-size="4.75" class="t">-6</text>
<text x="17.55" y="488.67" text-anchor="end" font-size="4.75" class="t">-4</text>
<text x="17.55" y="480.82" text-anchor="end" font-size="4.75" class="t">-2</text>
<text transform="translate(22.78 526.3) rotate(-90)" text-anchor="end" font-size="4.75" class="t">SABO</text>
<text transform="translate(28.12 526.3) rotate(-90)" text-anchor="end" font-size="4.75" class="t">WSO</text>
<text transform="translate(33.45 526.3) rotate(-90)" text-anchor="end" font-size="4.75" class="t">AVOA</text>
<text transform="translate(38.79 526.3) rotate(-90)" text-anchor="end" font-size="4.75" class="t">RSA</text>
<text transform="translate(44.12 526.3) rotate(-90)" text-anchor="end" font-size="4.75" class="t">MPA</text>
<text transform="translate(49.46 526.3) rotate(-90)" text-anchor="end" font-size="4.75" class="t">TSA</text>
<text transform="translate(54.79 526.3) rotate(-90)" text-anchor="end" font-size="4.75" class="t">WOA</text>
<text transform="translate(60.13 526.3) rotate(-90)" text-anchor="end" font-size="4.75" class="t">MVO</text>
<text transform="translate(65.46 526.3) rotate(-90)" text-anchor="end" font-size="4.75" class="t">GWO</text>
<text transform="translate(70.8 526.3) rotate(-90)" text-anchor="end" font-size="4.75" class="t">TLBO</text>
<text transform="translate(76.13 526.3) rotate(-90)" text-anchor="end" font-size="4.75" class="t">GSA</text>
<text transform="translate(81.47 526.3) rotate(-90)" text-anchor="end" font-size="4.75" class="t">PSO</text>
<text transform="translate(86.8 526.3) rotate(-90)" text-anchor="end" font-size="4.75" class="t">GA</text>
<text x="53.23" y="471.7" text-anchor="middle" font-size="5.2" font-weight="bold" fill="#000" stroke="#000" stroke-width="0.1">F21</text>
<text x="53.23" y="545.5" text-anchor="middle" font-size="5.3" class="t">algorithm</text>
<text transform="translate(8.82 498.3) rotate(-90)" text-anchor="middle" font-size="5.3" class="yl">objective function</text>
<rect x="125.6" y="472.3" width="69.8" height="52" fill="none" stroke="#9a9a9a" stroke-width="1.4"/>
<path d="M128.28 524.3v-1.3M128.28 472.3v1.3M133.65 524.3v-1.3M133.65 472.3v1.3M139.02 524.3v-1.3M139.02 472.3v1.3M144.39 524.3v-1.3M144.39 472.3v1.3M149.76 524.3v-1.3M149.76 472.3v1.3M155.13 524.3v-1.3M155.13 472.3v1.3M160.5 524.3v-1.3M160.5 472.3v1.3M165.87 524.3v-1.3M165.87 472.3v1.3M171.24 524.3v-1.3M171.24 472.3v1.3M176.61 524.3v-1.3M176.61 472.3v1.3M181.98 524.3v-1.3M181.98 472.3v1.3M187.35 524.3v-1.3M187.35 472.3v1.3M192.72 524.3v-1.3M192.72 472.3v1.3M125.6 514.6h1.3M195.4 514.6h-1.3M125.6 493.6h1.3M195.4 493.6h-1.3M125.6 472.5h1.3M195.4 472.5h-1.3" stroke="#6a6a6a" stroke-width="0.55" fill="none"/>
<clipPath id="cF22"><rect x="125.1" y="469.8" width="70.8" height="57"/></clipPath>
<g clip-path="url(#cF22)">
<line x1="126.69" x2="129.88" y1="515.9" y2="515.9" stroke="#ff4a4a" stroke-width="0.8"/>
<path d="M131.35 487.75H135.95M133.65 485.45V490.05" stroke="#ff4a4a" stroke-width="0.8" fill="none"/>
<line x1="132.06" x2="135.25" y1="515.9" y2="515.9" stroke="#ff4a4a" stroke-width="0.8"/>
<path d="M136.72 515.9H141.32M139.02 513.6V518.2" stroke="#ff4a4a" stroke-width="0.8" fill="none"/>
<line x1="137.43" x2="140.62" y1="515.9" y2="515.9" stroke="#ff4a4a" stroke-width="0.8"/>
<line x1="142.8" x2="145.99" y1="493.75" y2="493.75" stroke="#ff4a4a" stroke-width="0.8"/>
<path d="M147.46 515.9H152.06M149.76 513.6V518.2" stroke="#ff4a4a" stroke-width="0.8" fill="none"/>
<line x1="148.17" x2="151.36" y1="515.9" y2="515.9" stroke="#ff4a4a" stroke-width="0.8"/>
<line x1="155.13" x2="155.13" y1="479.6" y2="498" stroke="#111" stroke-width="0.9" stroke-dasharray="0.9 2.1"/>
<rect x="153.54" y="498" width="3.19" height="17.5" rx="0.7" fill="none" stroke="#3535ff" stroke-width="0.6"/>
<line x1="153.74" x2="156.53" y1="515.5" y2="515.5" stroke="#ff6262" stroke-width="0.8"/>
<ellipse cx="155.13" cy="515.3" rx="1.6" ry="0.95" fill="#4a1fb0"/>
<line x1="160.5" x2="160.5" y1="483.4" y2="493.4" stroke="#111" stroke-width="0.9" stroke-dasharray="0.9 2.1"/>
<rect x="158.9" y="493.4" width="3.19" height="22.1" rx="0.7" fill="none" stroke="#3535ff" stroke-width="0.6"/>
<line x1="159.1" x2="161.9" y1="515.5" y2="515.5" stroke="#ff6262" stroke-width="0.8"/>
<path d="M163.57 484H168.17M165.87 481.7V486.3" stroke="#ff4a4a" stroke-width="0.8" fill="none"/>
<line x1="165.87" x2="165.87" y1="493.4" y2="504" stroke="#111" stroke-width="0.9" stroke-dasharray="0.9 2.1"/>
<rect x="164.27" y="504" width="3.19" height="11.5" rx="0.7" fill="none" stroke="#3535ff" stroke-width="0.6"/>
<line x1="164.47" x2="167.26" y1="515.5" y2="515.5" stroke="#ff6262" stroke-width="0.8"/>
<path d="M168.94 493.75H173.54M171.24 491.45V496.05" stroke="#ff4a4a" stroke-width="0.8" fill="none"/>
<line x1="169.64" x2="172.83" y1="515.9" y2="515.9" stroke="#ff4a4a" stroke-width="0.8"/>
<path d="M174.31 487.1H178.91M176.61 484.8V489.4" stroke="#ff4a4a" stroke-width="0.8" fill="none"/>
<path d="M174.31 490H178.91M176.61 487.7V492.3" stroke="#ff4a4a" stroke-width="0.8" fill="none"/>
<path d="M174.31 493.75H178.91M176.61 491.45V496.05" stroke="#ff4a4a" stroke-width="0.8" fill="none"/>
<rect x="175.01" y="504.25" width="3.19" height="4.75" rx="0.7" fill="none" stroke="#3535ff" stroke-width="0.6"/>
<line x1="175.21" x2="178" y1="506.5" y2="506.5" stroke="#ff6262" stroke-width="0.8"/>
<line x1="176.61" x2="176.61" y1="509" y2="512" stroke="#111" stroke-width="0.9" stroke-dasharray="0.9 2.1"/>
<path d="M174.31 514.6H178.91M176.61 512.3V516.9" stroke="#ff4a4a" stroke-width="0.8" fill="none"/>
<line x1="180.38" x2="183.57" y1="515.9" y2="515.9" stroke="#ff4a4a" stroke-width="0.8"/>
<rect x="185.75" y="484" width="3.19" height="31.5" rx="0.7" fill="none" stroke="#3535ff" stroke-width="0.6"/>
<line x1="185.95" x2="188.74" y1="485.9" y2="485.9" stroke="#ff6262" stroke-width="0.8"/>
<path d="M190.42 483.4H195.02M192.72 481.1V485.7" stroke="#ff4a4a" stroke-width="0.8" fill="none"/>
<path d="M190.42 486.5H195.02M192.72 484.2V488.8" stroke="#ff4a4a" stroke-width="0.8" fill="none"/>
<line x1="192.72" x2="192.72" y1="489" y2="499.6" stroke="#111" stroke-width="0.9" stroke-dasharray="0.9 2.1"/>
<rect x="191.12" y="499.6" width="3.19" height="7.5" rx="0.7" fill="none" stroke="#3535ff" stroke-width="0.6"/>
<line x1="191.32" x2="194.11" y1="505" y2="505" stroke="#ff6262" stroke-width="0.8"/>
<line x1="192.72" x2="192.72" y1="507.1" y2="514" stroke="#111" stroke-width="0.9" stroke-dasharray="0.9 2.1"/>
</g>
<text x="124.6" y="516.17" text-anchor="end" font-size="4.75" class="t">-10</text>
<text x="124.6" y="495.17" text-anchor="end" font-size="4.75" class="t">-5</text>
<text x="124.6" y="474.07" text-anchor="end" font-size="4.75" class="t">0</text>
<text transform="translate(129.85 526.3) rotate(-90)" text-anchor="end" font-size="4.75" class="t">SABO</text>
<text transform="translate(135.22 526.3) rotate(-90)" text-anchor="end" font-size="4.75" class="t">WSO</text>
<text transform="translate(140.59 526.3) rotate(-90)" text-anchor="end" font-size="4.75" class="t">AVOA</text>
<text transform="translate(145.96 526.3) rotate(-90)" text-anchor="end" font-size="4.75" class="t">RSA</text>
<text transform="translate(151.33 526.3) rotate(-90)" text-anchor="end" font-size="4.75" class="t">MPA</text>
<text transform="translate(156.7 526.3) rotate(-90)" text-anchor="end" font-size="4.75" class="t">TSA</text>
<text transform="translate(162.07 526.3) rotate(-90)" text-anchor="end" font-size="4.75" class="t">WOA</text>
<text transform="translate(167.44 526.3) rotate(-90)" text-anchor="end" font-size="4.75" class="t">MVO</text>
<text transform="translate(172.81 526.3) rotate(-90)" text-anchor="end" font-size="4.75" class="t">GWO</text>
<text transform="translate(178.18 526.3) rotate(-90)" text-anchor="end" font-size="4.75" class="t">TLBO</text>
<text transform="translate(183.54 526.3) rotate(-90)" text-anchor="end" font-size="4.75" class="t">GSA</text>
<text transform="translate(188.91 526.3) rotate(-90)" text-anchor="end" font-size="4.75" class="t">PSO</text>
<text transform="translate(194.28 526.3) rotate(-90)" text-anchor="end" font-size="4.75" class="t">GA</text>
<text x="160.5" y="471.7" text-anchor="middle" font-size="5.2" font-weight="bold" fill="#000" stroke="#000" stroke-width="0.1">F22</text>
<text x="160.5" y="545.5" text-anchor="middle" font-size="5.3" class="t">algorithm</text>
<text transform="translate(116.33 498.3) rotate(-90)" text-anchor="middle" font-size="5.3" class="yl">objective function</text>
<rect x="233.4" y="472.4" width="69.1" height="51.9" fill="none" stroke="#9a9a9a" stroke-width="1.4"/>
<path d="M236.06 524.3v-1.3M236.06 472.4v1.3M241.37 524.3v-1.3M241.37 472.4v1.3M246.69 524.3v-1.3M246.69 472.4v1.3M252 524.3v-1.3M252 472.4v1.3M257.32 524.3v-1.3M257.32 472.4v1.3M262.63 524.3v-1.3M262.63 472.4v1.3M267.95 524.3v-1.3M267.95 472.4v1.3M273.27 524.3v-1.3M273.27 472.4v1.3M278.58 524.3v-1.3M278.58 472.4v1.3M283.9 524.3v-1.3M283.9 472.4v1.3M289.21 524.3v-1.3M289.21 472.4v1.3M294.53 524.3v-1.3M294.53 472.4v1.3M299.84 524.3v-1.3M299.84 472.4v1.3M233.4 511.5h1.3M302.5 511.5h-1.3M233.4 492.1h1.3M302.5 492.1h-1.3M233.4 472.5h1.3M302.5 472.5h-1.3" stroke="#6a6a6a" stroke-width="0.55" fill="none"/>
<clipPath id="cF23"><rect x="232.9" y="469.9" width="70.1" height="56.9"/></clipPath>
<g clip-path="url(#cF23)">
<line x1="234.48" x2="237.64" y1="513" y2="513" stroke="#ff4a4a" stroke-width="0.8"/>
<path d="M239.07 482.1H243.67M241.37 479.8V484.4" stroke="#ff4a4a" stroke-width="0.8" fill="none"/>
<path d="M239.07 513H243.67M241.37 510.7V515.3" stroke="#ff4a4a" stroke-width="0.8" fill="none"/>
<line x1="239.79" x2="242.95" y1="513" y2="513" stroke="#ff4a4a" stroke-width="0.8"/>
<path d="M244.39 513H248.99M246.69 510.7V515.3" stroke="#ff4a4a" stroke-width="0.8" fill="none"/>
<line x1="245.11" x2="248.27" y1="513" y2="513" stroke="#ff4a4a" stroke-width="0.8"/>
<path d="M249.7 492.5H254.3M252 490.2V494.8" stroke="#ff4a4a" stroke-width="0.8" fill="none"/>
<line x1="255.74" x2="258.9" y1="513" y2="513" stroke="#ff4a4a" stroke-width="0.8"/>
<rect x="261.06" y="482.75" width="3.16" height="29.75" rx="0.7" fill="none" stroke="#3535ff" stroke-width="0.6"/>
<line x1="261.26" x2="264.01" y1="512.5" y2="512.5" stroke="#ff6262" stroke-width="0.8"/>
<ellipse cx="262.63" cy="512.3" rx="1.58" ry="0.95" fill="#4a1fb0"/>
<line x1="267.95" x2="267.95" y1="479" y2="492.1" stroke="#111" stroke-width="0.9" stroke-dasharray="0.9 2.1"/>
<rect x="266.37" y="492.1" width="3.16" height="20.4" rx="0.7" fill="none" stroke="#3535ff" stroke-width="0.6"/>
<line x1="266.57" x2="269.33" y1="512.5" y2="512.5" stroke="#ff6262" stroke-width="0.8"/>
<path d="M270.97 492.5H275.57M273.27 490.2V494.8" stroke="#ff4a4a" stroke-width="0.8" fill="none"/>
<path d="M270.97 513H275.57M273.27 510.7V515.3" stroke="#ff4a4a" stroke-width="0.8" fill="none"/>
<line x1="271.69" x2="274.84" y1="513" y2="513" stroke="#ff4a4a" stroke-width="0.8"/>
<line x1="277" x2="280.16" y1="513" y2="513" stroke="#ff4a4a" stroke-width="0.8"/>
<path d="M281.6 487.5H286.2M283.9 485.2V489.8" stroke="#ff4a4a" stroke-width="0.8" fill="none"/>
<path d="M281.6 489H286.2M283.9 486.7V491.3" stroke="#ff4a4a" stroke-width="0.8" fill="none"/>
<path d="M281.6 490.5H286.2M283.9 488.2V492.8" stroke="#ff4a4a" stroke-width="0.8" fill="none"/>
<path d="M281.6 492.1H286.2M283.9 489.8V494.4" stroke="#ff4a4a" stroke-width="0.8" fill="none"/>
<rect x="282.32" y="500.9" width="3.16" height="4.35" rx="0.7" fill="none" stroke="#3535ff" stroke-width="0.6"/>
<line x1="282.52" x2="285.28" y1="503.4" y2="503.4" stroke="#ff6262" stroke-width="0.8"/>
<line x1="283.9" x2="283.9" y1="505.25" y2="511.5" stroke="#111" stroke-width="0.9" stroke-dasharray="0.9 2.1"/>
<path d="M286.91 513H291.51M289.21 510.7V515.3" stroke="#ff4a4a" stroke-width="0.8" fill="none"/>
<line x1="287.63" x2="290.79" y1="513" y2="513" stroke="#ff4a4a" stroke-width="0.8"/>
<rect x="292.95" y="482.5" width="3.16" height="30.25" rx="0.7" fill="none" stroke="#3535ff" stroke-width="0.6"/>
<line x1="293.15" x2="295.91" y1="485.25" y2="485.25" stroke="#ff6262" stroke-width="0.8"/>
<line x1="299.84" x2="299.84" y1="482.75" y2="487.1" stroke="#111" stroke-width="0.9" stroke-dasharray="0.9 2.1"/>
<rect x="298.26" y="487.1" width="3.16" height="18.8" rx="0.7" fill="none" stroke="#3535ff" stroke-width="0.6"/>
<line x1="298.46" x2="301.22" y1="499" y2="499" stroke="#ff6262" stroke-width="0.8"/>
<line x1="299.84" x2="299.84" y1="505.9" y2="510.9" stroke="#111" stroke-width="0.9" stroke-dasharray="0.9 2.1"/>
</g>
<text x="232.4" y="513.07" text-anchor="end" font-size="4.75" class="t">-10</text>
<text x="232.4" y="493.67" text-anchor="end" font-size="4.75" class="t">-5</text>
<text x="232.4" y="474.07" text-anchor="end" font-size="4.75" class="t">0</text>
<text transform="translate(237.63 526.3) rotate(-90)" text-anchor="end" font-size="4.75" class="t">SABO</text>
<text transform="translate(242.94 526.3) rotate(-90)" text-anchor="end" font-size="4.75" class="t">WSO</text>
<text transform="translate(248.26 526.3) rotate(-90)" text-anchor="end" font-size="4.75" class="t">AVOA</text>
<text transform="translate(253.57 526.3) rotate(-90)" text-anchor="end" font-size="4.75" class="t">RSA</text>
<text transform="translate(258.89 526.3) rotate(-90)" text-anchor="end" font-size="4.75" class="t">MPA</text>
<text transform="translate(264.2 526.3) rotate(-90)" text-anchor="end" font-size="4.75" class="t">TSA</text>
<text transform="translate(269.52 526.3) rotate(-90)" text-anchor="end" font-size="4.75" class="t">WOA</text>
<text transform="translate(274.83 526.3) rotate(-90)" text-anchor="end" font-size="4.75" class="t">MVO</text>
<text transform="translate(280.15 526.3) rotate(-90)" text-anchor="end" font-size="4.75" class="t">GWO</text>
<text transform="translate(285.46 526.3) rotate(-90)" text-anchor="end" font-size="4.75" class="t">TLBO</text>
<text transform="translate(290.78 526.3) rotate(-90)" text-anchor="end" font-size="4.75" class="t">GSA</text>
<text transform="translate(296.09 526.3) rotate(-90)" text-anchor="end" font-size="4.75" class="t">PSO</text>
<text transform="translate(301.41 526.3) rotate(-90)" text-anchor="end" font-size="4.75" class="t">GA</text>
<text x="267.95" y="471.8" text-anchor="middle" font-size="5.2" font-weight="bold" fill="#000" stroke="#000" stroke-width="0.1">F23</text>
<text x="267.95" y="545.5" text-anchor="middle" font-size="5.3" class="t">algorithm</text>
<text transform="translate(223.72 498.35) rotate(-90)" text-anchor="middle" font-size="5.3" class="yl">objective function</text>
</svg>
</body></html>
